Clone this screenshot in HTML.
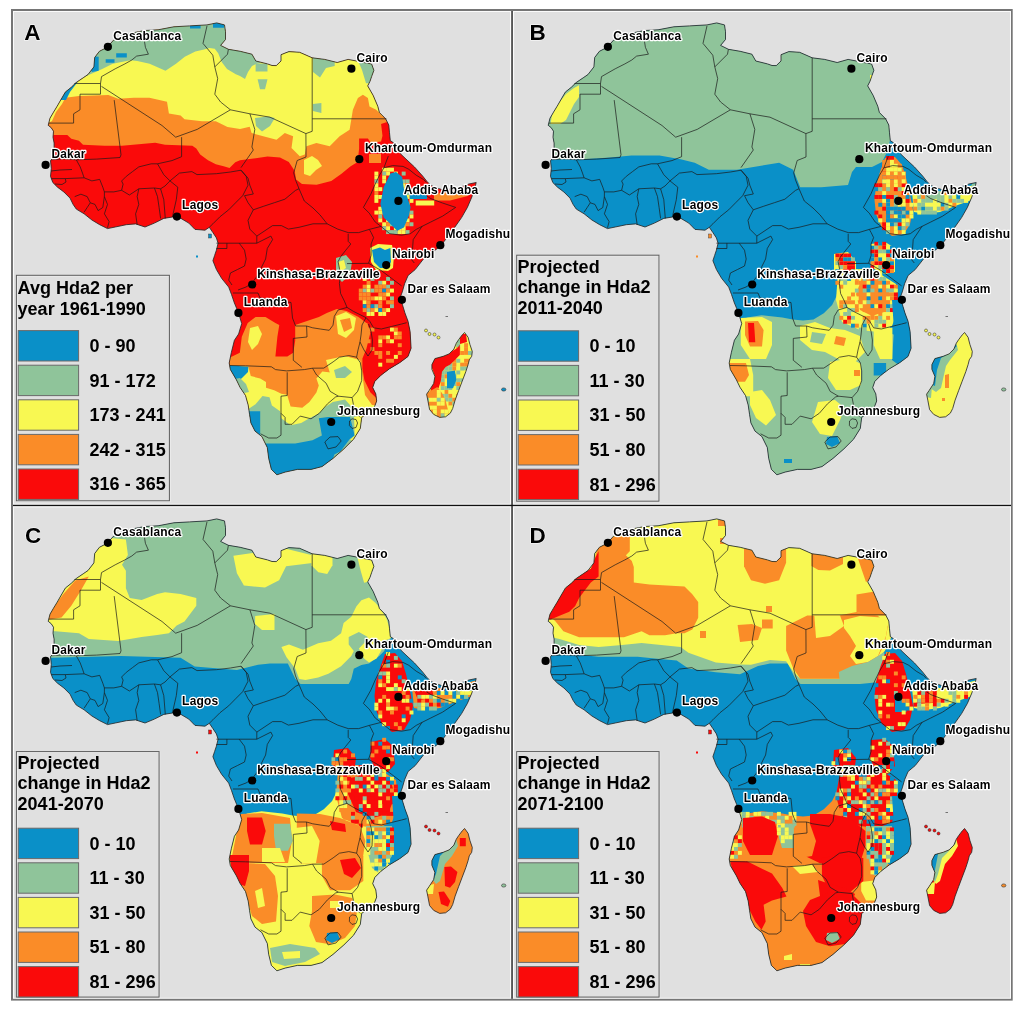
<!DOCTYPE html>
<html><head><meta charset="utf-8"><style>
html,body{margin:0;padding:0;background:#fff;}
svg{display:block;}
text{font-family:"Liberation Sans",Arial,sans-serif;font-weight:bold;fill:#000;}
.ct{font-size:12px;stroke:#fff;stroke-width:2.5px;paint-order:stroke;stroke-linejoin:round;}
.pl{font-size:22.5px;stroke:#fff;stroke-width:1px;paint-order:stroke;}
.lt{font-size:18px;}
.ll{font-size:18px;}
</style></head><body>
<svg width="1024" height="1011" viewBox="0 0 1024 1011">
<defs>
<clipPath id="af"><path d="M113.4,40.3 L122,36 L132,33 L144.5,30.5 L158.1,29.8 L173.8,26.8 L189.4,25.9 L207,24.9 L216.7,22.9 L224.5,24.9 L225.5,31.7 L225.5,39.5 L220.6,45.4 L228.4,49.3 L240.2,51.3 L251.9,54.2 L255.8,61 L267.5,63.9 L272,65.5 L276.3,65.6 L281,61 L281,54.7 L288.8,51.6 L299.7,52.3 L312.2,57.8 L324.7,59.4 L337.2,62.5 L348.1,59.4 L355.9,60.9 L363.8,62.5 L371.6,64 L373.9,70.3 L371.6,76.6 L370,81.3 L367.7,85.9 L373.1,95.3 L377.8,106.3 L379.4,112.5 L385.6,118.8 L388.8,125 L389.5,132.8 L390.3,140.6 L395,143.8 L401.2,154.5 L407,160 L414.5,167 L422.8,176.2 L426.8,181.3 L430,184.5 L433.7,186.9 L442.5,189.8 L457.2,188.3 L468.9,184 L476.2,182.5 L474.8,188.3 L471.8,197.1 L467.4,207.4 L461.6,217.6 L454.3,227.9 L445.5,239.6 L440.4,246.2 L432,252.5 L423.4,259.1 L415.2,269.6 L408.1,275.5 L404.6,283.7 L402.3,291.9 L400.5,296.6 L401.8,302.5 L404.9,312.8 L408,321.2 L410.1,331.5 L411.1,348.2 L408,356.5 L399.7,362.7 L389.3,368.9 L381,375.2 L374.8,381.4 L372.7,387.6 L375.8,393.9 L376.7,401 L374,407.9 L367.2,413.3 L361.7,417.4 L360.3,428.4 L353.5,439.3 L343.9,448.9 L333,458.4 L322,466.6 L311.1,469.4 L297.4,469.4 L285.1,472.1 L276.9,474.8 L271.4,469.4 L268.7,458.4 L267.3,447.5 L261.9,436.6 L255,431.1 L250.9,422.9 L249.6,414.7 L248.2,405.1 L245.5,395.5 L240,387.3 L236.5,380 L230.3,369.4 L229.2,363 L231.3,352.7 L234.4,340.3 L238.6,334 L241.7,323.6 L238.6,313 L234.4,303 L231.5,294.5 L228.7,287.1 L221.6,278.3 L216.4,269.5 L212.9,260.7 L214.6,255.5 L216.4,250.2 L218.1,243.2 L216.4,237.9 L212.9,232.6 L209.3,227.3 L205,230.2 L195,229.4 L188.8,223.1 L180.9,218.4 L173.1,216.9 L163.8,218.4 L154.4,223.1 L145,227 L135.6,223.9 L126.3,224.7 L115.3,227 L107.5,228.6 L99.7,224.7 L91.9,220 L84.1,213.8 L76.3,209.1 L73.1,204.4 L70,198.1 L63.8,191.9 L57.5,187.2 L52.8,182.5 L50.5,176.3 L51.3,168.4 L50.5,160.6 L52.4,158.5 L54.1,149 L54.1,143.1 L53,137.2 L53.5,131.2 L51.2,127.7 L48.2,125.3 L50,118.2 L53.5,112.2 L57.1,106.3 L61.9,98 L65.4,92 L71.3,87.3 L76.1,82.6 L83.2,77.8 L88,74.5 L93.9,66.9 L94.7,57.5 L99.4,51.3 L107.2,47.3Z"/></clipPath>
<clipPath id="mg"><path d="M464.6,332.5 L468.1,337.3 L469.9,344.4 L472.3,351.5 L471.7,356.3 L469.3,359.8 L468.1,364.6 L465.8,371.7 L462.2,381.2 L458.6,390.7 L455.1,400.2 L452.7,408.5 L450.3,413.2 L445.6,416.8 L439.7,417.4 L433.7,414.4 L429.6,409.6 L427.8,400.2 L426.6,394.2 L429,390.7 L433.7,383.5 L434.9,376.4 L431.9,369.3 L431.9,364.6 L434.9,358.6 L443.2,356.3 L449.1,353.9 L453.9,349.1 L456.3,343.2 L458.6,339.7 L462.2,334.9Z"/></clipPath>
<path id="afo" d="M113.4,40.3 L122,36 L132,33 L144.5,30.5 L158.1,29.8 L173.8,26.8 L189.4,25.9 L207,24.9 L216.7,22.9 L224.5,24.9 L225.5,31.7 L225.5,39.5 L220.6,45.4 L228.4,49.3 L240.2,51.3 L251.9,54.2 L255.8,61 L267.5,63.9 L272,65.5 L276.3,65.6 L281,61 L281,54.7 L288.8,51.6 L299.7,52.3 L312.2,57.8 L324.7,59.4 L337.2,62.5 L348.1,59.4 L355.9,60.9 L363.8,62.5 L371.6,64 L373.9,70.3 L371.6,76.6 L370,81.3 L367.7,85.9 L373.1,95.3 L377.8,106.3 L379.4,112.5 L385.6,118.8 L388.8,125 L389.5,132.8 L390.3,140.6 L395,143.8 L401.2,154.5 L407,160 L414.5,167 L422.8,176.2 L426.8,181.3 L430,184.5 L433.7,186.9 L442.5,189.8 L457.2,188.3 L468.9,184 L476.2,182.5 L474.8,188.3 L471.8,197.1 L467.4,207.4 L461.6,217.6 L454.3,227.9 L445.5,239.6 L440.4,246.2 L432,252.5 L423.4,259.1 L415.2,269.6 L408.1,275.5 L404.6,283.7 L402.3,291.9 L400.5,296.6 L401.8,302.5 L404.9,312.8 L408,321.2 L410.1,331.5 L411.1,348.2 L408,356.5 L399.7,362.7 L389.3,368.9 L381,375.2 L374.8,381.4 L372.7,387.6 L375.8,393.9 L376.7,401 L374,407.9 L367.2,413.3 L361.7,417.4 L360.3,428.4 L353.5,439.3 L343.9,448.9 L333,458.4 L322,466.6 L311.1,469.4 L297.4,469.4 L285.1,472.1 L276.9,474.8 L271.4,469.4 L268.7,458.4 L267.3,447.5 L261.9,436.6 L255,431.1 L250.9,422.9 L249.6,414.7 L248.2,405.1 L245.5,395.5 L240,387.3 L236.5,380 L230.3,369.4 L229.2,363 L231.3,352.7 L234.4,340.3 L238.6,334 L241.7,323.6 L238.6,313 L234.4,303 L231.5,294.5 L228.7,287.1 L221.6,278.3 L216.4,269.5 L212.9,260.7 L214.6,255.5 L216.4,250.2 L218.1,243.2 L216.4,237.9 L212.9,232.6 L209.3,227.3 L205,230.2 L195,229.4 L188.8,223.1 L180.9,218.4 L173.1,216.9 L163.8,218.4 L154.4,223.1 L145,227 L135.6,223.9 L126.3,224.7 L115.3,227 L107.5,228.6 L99.7,224.7 L91.9,220 L84.1,213.8 L76.3,209.1 L73.1,204.4 L70,198.1 L63.8,191.9 L57.5,187.2 L52.8,182.5 L50.5,176.3 L51.3,168.4 L50.5,160.6 L52.4,158.5 L54.1,149 L54.1,143.1 L53,137.2 L53.5,131.2 L51.2,127.7 L48.2,125.3 L50,118.2 L53.5,112.2 L57.1,106.3 L61.9,98 L65.4,92 L71.3,87.3 L76.1,82.6 L83.2,77.8 L88,74.5 L93.9,66.9 L94.7,57.5 L99.4,51.3 L107.2,47.3Z" fill="none" stroke="#222" stroke-width="0.8"/>
<g id="brd" fill="none" stroke="#1a1a1a" stroke-width="0.7" stroke-linejoin="round"><polyline points="144.5,41.5 145.4,47.3 148.4,54.2 136.6,56.1 131.8,60 124.9,63.9 115.2,68.8 101.5,76.6 100.5,83.5"/><polyline points="74.4,83.5 100.5,83.5"/><polyline points="100.5,83.5 100.5,94.2 80,94.2 80,109.8 73.6,113.8 73.6,123.1 49,123.1"/><polyline points="101.5,86.4 162,125.5 175.7,137.2"/><polyline points="114.2,100.1 121,154.8 120,157.5 96.6,159.1 76.3,159.8 63.8,158.8 51,159.8"/><polyline points="175.7,137.2 197.2,129.4 230.4,109.8"/><polyline points="181.6,137.2 181.6,156.7 172,160.6 157.5,163.8"/><polyline points="207,25.9 203,43.4 212.8,55.2 214.8,66.9"/><polyline points="214.8,66.9 227.5,54.2 228.4,49.3"/><polyline points="214.8,66.9 217.7,78.6 214.8,94.2 220.6,102 230.4,109.8"/><polyline points="230.4,109.8 249.9,113.8 270,117.2 305.9,133.6 312.2,131.3"/><polyline points="249.9,113.8 254.8,129.4 251.9,147 253.3,150 241,167.6"/><polyline points="312.2,57.8 312.2,131.3"/><polyline points="312.2,118.8 386.4,118.8"/><polyline points="305.9,133.6 306,150 306,157 297.2,160.5 293.7,172.9 295.5,179.9 299,188.7"/><polyline points="76.3,159.8 80.2,166.9 82.5,173.1 84.1,177.8"/><polyline points="51.3,178.6 65.3,178.6 84.1,177.8"/><polyline points="51,171 60,170 72,169.5"/><polyline points="55,184 62,184.5 66,182 65.3,178.6"/><polyline points="84.1,177.8 91.9,180.9 99.7,179.4 102.8,187.2 104.4,191.9"/><polyline points="74.7,196.6 80.9,194.2 87.2,196.6 90.3,202.8 87.2,207.5 84.1,212.2"/><polyline points="90.3,202.8 95,204.4 98.1,210.6 102.8,207.5 104.4,196.6 104.4,191.9"/><polyline points="104.4,196.6 107.5,204.4 104.4,213.8 109.1,221.6 107.5,227.8"/><polyline points="104.4,191.9 113.8,191.9 121.6,190.3 123.1,184.1 121.6,181 126.3,176.3 132.5,171.6 138.8,166.9 151.3,163.8 157.5,163.8"/><polyline points="121.6,190.3 129.4,195 138.8,188.8"/><polyline points="138.8,188.8 137.2,196.6 138.8,204.4 135.6,213.8 137.2,224.7"/><polyline points="138.8,188.8 154.4,188"/><polyline points="154.4,188 157.5,196.6 159.1,207.5 160.6,218.4"/><polyline points="160.6,188.8 163.8,199.7 165.3,218.4"/><polyline points="154.4,188 160.6,188.8 165,186 170,180.9"/><polyline points="170,180.9 177.8,187.2 176.3,199.7 173.1,213.8 172.5,217"/><polyline points="157.5,163.8 163.8,174.7 170,180.9"/><polyline points="170,180.9 179.4,173.1 191.9,171.6 197,174.6 216.4,173.7 230.4,172 241,170.2"/><polyline points="241,170.2 246.2,176.4 248,185.2 242.7,195.7 235.7,202.7 228.7,209.8 219.9,216.8 212.9,223.8 209.3,227.3"/><polyline points="241,170.2 248,178.1 249.8,185.2 253.3,194 244.5,195.7 248,202.7 253.3,209.8"/><polyline points="253.3,209.8 248,220.3 249.8,229.1 256.8,236.1 256.8,243.2"/><polyline points="253.3,209.8 263.8,206.2 274.4,202.7 284.9,199.2 295.5,190.4 299,188.7"/><polyline points="299,188.7 304.3,201 313,208 320.1,215 327.1,223.8"/><polyline points="256.8,236.1 272.6,225.6 281.4,225.6 288.4,229.1 299,227.3 313,223.8 327.1,223.8"/><polyline points="327.1,223.8 337.7,229.1 348.2,232.6 358.7,232.6 369.3,229.4 381,226.4"/><polyline points="216.4,243.2 226.9,243.2 239.2,243.2 256.8,243.2"/><polyline points="216.4,248.5 226.9,248.5 226.9,243.2"/><polyline points="239.2,243.2 244.5,250.2 246.2,259 244.5,266 237.5,269.5 230.4,273 228.7,280.1 232,285"/><polyline points="256.8,243.2 270.9,236.1 272.6,239.6 267.3,248.4 265.6,259 262.1,266 256.8,276.6 251.5,283.6 246,287 238,290"/><polyline points="388.3,156.1 383.9,167.8 392.7,165.6 403,166.4 408.8,169.3 416.2,175.2 423.5,179.5 426.4,182.5"/><polyline points="383.9,167.8 379.5,175.2 375.2,184 370.8,194.2 363.4,207.4 369.3,213.2 375.2,222 381,226.4"/><polyline points="381,226.4 389.8,233.7 401.5,235.2 410.3,233.7 416.2,229.4 422,226.4"/><polyline points="422,226.4 430.8,222 442.5,216.2 455.7,207.4 442.5,203 430.8,198.6 426.4,195.7 425,186"/><polyline points="422,226.4 413.2,239.6 411.8,260 414.3,263"/><polyline points="348.2,233.8 348.2,241.4 350.8,244 345.7,250.3 340.6,256.7 338.1,261.7 339.4,268.1 340.6,274.4 339.4,283.3 340.6,293.5 344.4,301.1 347,307.4"/><polyline points="347,263.6 368.6,263.3"/><polyline points="368.6,263.3 371.1,255.4 371.1,244 373.6,237.6 371.1,232.5 369.3,229.4"/><polyline points="368.6,263.3 381.3,270.6 391.4,278.2 401.6,285.9"/><polyline points="347,307.4 353.3,311.3 360.9,315.1 366,317.6 369.8,321.4 373.6,327.8 381.3,329 391.4,326.5 401.6,324 406.6,322.7"/><polyline points="347,307.4 338.1,310 334.3,316.3 333,325.2 329.2,330.3 320.3,329 312.7,327.8 306.6,326"/><polyline points="233,293 258,293 260,298 275,300 291,302.5 292.5,318 295.6,326 306.6,326 307,337 293.3,338.4 293.3,360.3 301.9,367.3"/><polyline points="230,365.5 245.6,365.8 271.4,366.8 275.5,369.6 286.5,370.9 304.3,369.6 312.5,368.2"/><polyline points="287.2,372.3 287.2,395.5 281,396.2 281,435.2"/><polyline points="260.5,433.8 268.7,438 276.9,438 281,435.2"/><polyline points="281,413.3 285.1,417.4 285.1,424.3 292,424.3 300.2,416.1 311.1,418.8 319.3,413.3 327.5,403.8 335.7,396.9 338.4,396.2"/><polyline points="312.5,368.2 316.6,375 326.1,383.2 330.2,391.4 338.4,396.2"/><polyline points="338.4,396.2 352.1,397.6"/><polyline points="352.1,397.6 357.6,391.4 361.7,380.5 361.7,370.9 360.3,362.7 356.6,357.2"/><polyline points="312.5,368.2 323.8,368.1 333.1,361.9 339.4,357.2 348.8,355.6 356.6,357.2"/><polyline points="352.1,397.6 353.5,405.1 357.6,414.7 360.3,417.4"/><polyline points="349.5,421 352,418.8 356,419.5 357.6,423 356,427.5 352,428.4 349.4,425.5 349.5,421"/><polyline points="324.8,442 330,437 338,436.6 341.2,441 336,447 328,448.9 324.8,442"/><polyline points="366,317.6 362,325 361,335 360,342 364,350 368,356 372,350 372.4,340 371.1,331.6 368.6,324"/><polyline points="356.6,357.2 358,350 360,342"/></g>
<path id="mgo" d="M464.6,332.5 L468.1,337.3 L469.9,344.4 L472.3,351.5 L471.7,356.3 L469.3,359.8 L468.1,364.6 L465.8,371.7 L462.2,381.2 L458.6,390.7 L455.1,400.2 L452.7,408.5 L450.3,413.2 L445.6,416.8 L439.7,417.4 L433.7,414.4 L429.6,409.6 L427.8,400.2 L426.6,394.2 L429,390.7 L433.7,383.5 L434.9,376.4 L431.9,369.3 L431.9,364.6 L434.9,358.6 L443.2,356.3 L449.1,353.9 L453.9,349.1 L456.3,343.2 L458.6,339.7 L462.2,334.9Z" fill="none" stroke="#222" stroke-width="0.8"/>
</defs>
<rect width="1024" height="1011" fill="#fff"/>
<rect x="11" y="9" width="1001.7" height="991.6" fill="#757575"/>
<rect x="13" y="11" width="998" height="987.8" fill="#fbfbfb"/>
<rect x="14" y="12" width="996" height="985.8" fill="#e0e0e0"/>
<g transform="translate(0,0)">
<g clip-path="url(#af)"><rect x="40" y="15" width="450" height="470" fill="#fa0a0a"/>
<polygon fill="#fa8c28" points="30,135 45,135 57.6,134.9 67.3,134.9 71.3,138.8 79,140.8 83,144.7 104.5,145.7 122,145.7 155.2,142.7 165,144.7 192.3,145.7 196.3,148.6 200.2,154.5 208,160.3 215.8,164.2 223.6,166.2 229.5,168.1 235.3,162.3 240,160.3 253.6,158.5 267.5,156.5 280,157.6 288.8,162 294.6,170.8 296.1,179.6 302,184 316.6,184.7 331.3,181.1 341.5,173.7 350.3,166.4 357.6,162 359.1,148.8 359.1,138.6 367.9,138.6 370.8,143 381.1,141.5 382.5,135.7 381.1,124 385.5,122.5 392,121 400,110 495,110 495,5 30,5"/>
<polygon fill="#fa8c28" points="369,154 381,154 381,163 369,163"/>
<polygon fill="#f8f852" points="30,125 45,125 52,121 56,112 62,104 65.4,97.8 79,95.9 108.4,94.9 118.1,98.8 133.8,97.8 149.4,97.8 167,101.7 168.9,113.4 180.6,115.4 184.5,119.3 202.1,121.3 215.8,121.3 227.5,127.1 240,129 249.7,126.8 251.6,133 263.2,136.3 276.5,139.7 284.8,133 293.1,136.3 291.5,148 299.8,156.3 304.8,154.6 306.4,146.3 316.4,143 329.7,146.3 339.6,136.3 349.6,129.7 352.9,109.8 357.9,98.1 362.9,94.8 367.9,98.1 369.5,106.4 376.2,109.8 379.5,113.1 382.5,116.6 395,110 495,110 495,5 30,5"/>
<polygon fill="#f8f852" points="304,160 312,156 318,160 322,166 316,170 310,176 304,174"/>
<polygon fill="#8fc49a" points="30,80 80,80 86.4,76 102.2,69 112.7,63.7 130.3,60.2 137.3,61.1 149.6,63.7 165.5,70.7 176,63.7 184.8,56.7 195.3,51.4 204.1,49.6 209.4,47.9 214.7,48.8 218.2,53.2 221.7,62 227,69 235.8,74.2 240,76 245,79 248,72 252,66 256,64 260,63 262,58 270,56 300,50 495,50 495,5 30,5"/>
<polygon fill="#8fc49a" points="255.6,63.5 267.5,63.5 267.5,71.4 255.6,71.4"/>
<polygon fill="#8fc49a" points="257.6,79.3 267.5,79.3 265,89.2 260,89.2"/>
<polygon fill="#8fc49a" points="313,56 334.7,56 334.7,66 326,68 320,77.4 313,72"/>
<polygon fill="#8fc49a" points="358.5,62 374,62 374,83.3 366,83.3 362,70"/>
<polygon fill="#8fc49a" points="313,104 321.4,103 321.4,113 313,111"/>
<polygon fill="#8fc49a" points="255,118 268,116.4 274.8,118 270,126 262,131.4 256,126"/>
<polygon fill="#0a90c8" points="90,56 98.7,56.7 98.7,70.7 92,72 88,66"/>
<polygon fill="#0a90c8" points="105.7,59.3 114.5,59.3 114.5,62.8 105.7,62.8"/>
<polygon fill="#0a90c8" points="116.2,53.2 126.8,53.2 126.8,57.5 116.2,57.5"/>
<polygon fill="#0a90c8" points="190,22 200.6,22 200.6,28.5 190,28.5"/>
<polygon fill="#0a90c8" points="213,18 224,18 224,27.7 213,27.7"/>
<polygon fill="#0a90c8" points="60,84 70,80 77.6,82 70,92 66,100 58,100"/>
<polygon fill="#fa8c28" points="30,358.6 220,358.6 227.9,358.6 239.8,352.7 241.8,336.8 247.7,323 255.6,317 265.5,317 275.4,323 279.3,325 277.4,336.8 275.4,356.6 287.3,356.6 293.2,352.7 295.2,340.8 295.2,325 307,321 318.9,317 326.8,313.1 336.7,309.1 346.6,311.1 358.5,317 366.4,323 420,323 495,323 495,495 30,495"/>
<polygon fill="#fa0a0a" points="366.4,320 420,320 420,410 378.3,400.1 370.3,392.2 364.4,380.3 362.4,368.5 362.4,358.6 366.4,348.7 370.3,332.9"/>
<polygon fill="#f8f852" points="30,366 220,366 229.7,365.5 248.4,366.7 250.8,376.1 260.2,378.4 266,382 266,387.8 274.2,390.2 281.3,393.7 287.1,394.8 290.6,406.6 302.3,407.7 309.4,401.9 316.4,392.5 318.8,385.5 316.4,378.4 322.3,371.4 330.8,372.4 338.7,368.5 348.6,366.5 358.5,368.5 362,372 365,395 372,405 420,405 495,405 495,495 30,495"/>
<polygon fill="#8fc49a" points="30,408.9 220,408.9 248.4,408.9 255.5,404.2 262.5,396 269.5,397.2 271.9,405.4 280.1,411.3 281.3,418.3 290.6,425.3 301.2,423 309.4,418.3 318.8,413.6 325.8,406.6 332.8,401.9 345,399.5 350,405 357.8,416.9 420,416.9 495,416.9 495,495 30,495"/>
<polygon fill="#0a90c8" points="30,443.4 220,443.4 262.5,443.4 279.7,443.4 295.3,443.4 312.5,440.3 321.9,435.6 318.8,418.3 328.1,416.9 345,417 350,416.9 354.7,435.6 350,438.8 340.6,451.3 334.4,454.4 331.3,463.8 331.3,480 495,480 495,495 30,495"/>
<polygon fill="#0a90c8" points="245,411.3 260.2,411.3 260.2,435 250,435"/>
<polygon fill="#0a90c8" points="225,365 248.4,366.7 248,372 242,378 236,383 228,383"/>
<polygon fill="#8fc49a" points="228,380 240,378 246,384 249,392 240,394"/>
<polygon fill="#f8f852" points="354,416.9 366,414 366,425 362,436 356,442 350,440 354.7,435.6"/>
<rect x="366.6" y="327.6" width="3.95" height="3.95" fill="#fa8c28"/><rect x="370.5" y="327.6" width="3.95" height="3.95" fill="#fa8c28"/><rect x="390.0" y="327.6" width="3.95" height="3.95" fill="#f8f852"/><rect x="393.9" y="327.6" width="3.95" height="3.95" fill="#fa8c28"/><rect x="393.9" y="331.5" width="3.95" height="3.95" fill="#f8f852"/><rect x="397.8" y="331.5" width="3.95" height="3.95" fill="#fa8c28"/><rect x="378.3" y="335.4" width="3.95" height="3.95" fill="#fa8c28"/><rect x="382.2" y="335.4" width="3.95" height="3.95" fill="#fa8c28"/><rect x="386.1" y="335.4" width="3.95" height="3.95" fill="#f8f852"/><rect x="393.9" y="335.4" width="3.95" height="3.95" fill="#fa8c28"/><rect x="397.8" y="335.4" width="3.95" height="3.95" fill="#fa8c28"/><rect x="366.6" y="339.3" width="3.95" height="3.95" fill="#fa8c28"/><rect x="378.3" y="339.3" width="3.95" height="3.95" fill="#f8f852"/><rect x="386.1" y="339.3" width="3.95" height="3.95" fill="#fa8c28"/><rect x="390.0" y="339.3" width="3.95" height="3.95" fill="#f8f852"/><rect x="378.3" y="343.2" width="3.95" height="3.95" fill="#fa8c28"/><rect x="397.8" y="343.2" width="3.95" height="3.95" fill="#fa8c28"/><rect x="370.5" y="347.1" width="3.95" height="3.95" fill="#fa8c28"/><rect x="374.4" y="351.0" width="3.95" height="3.95" fill="#fa8c28"/><rect x="378.3" y="351.0" width="3.95" height="3.95" fill="#fa8c28"/><rect x="386.1" y="351.0" width="3.95" height="3.95" fill="#fa8c28"/><rect x="397.8" y="351.0" width="3.95" height="3.95" fill="#fa8c28"/><rect x="378.3" y="354.9" width="3.95" height="3.95" fill="#fa8c28"/><rect x="393.9" y="354.9" width="3.95" height="3.95" fill="#f8f852"/><rect x="386.1" y="358.8" width="3.95" height="3.95" fill="#fa8c28"/><rect x="390.0" y="358.8" width="3.95" height="3.95" fill="#fa8c28"/><rect x="378.3" y="362.7" width="3.95" height="3.95" fill="#f8f852"/>
<polygon fill="#f8f852" points="326,360 345,356 360,360 362,372 350,380 340,385 332,380"/>
<polygon fill="#8fc49a" points="334,370 345,366 352,372 345,378 336,378"/>
<polygon fill="#f8f852" points="250,328 258,326 262,334 258,344 252,350 248,342"/>
<rect x="382.2" y="167.7" width="3.95" height="3.95" fill="#f8f852"/><rect x="386.1" y="167.7" width="3.95" height="3.95" fill="#f8f852"/><rect x="390.0" y="167.7" width="3.95" height="3.95" fill="#f8f852"/><rect x="374.4" y="171.6" width="3.95" height="3.95" fill="#f8f852"/><rect x="382.2" y="171.6" width="3.95" height="3.95" fill="#8fc49a"/><rect x="386.1" y="171.6" width="3.95" height="3.95" fill="#f8f852"/><rect x="393.9" y="171.6" width="3.95" height="3.95" fill="#f8f852"/><rect x="401.7" y="171.6" width="3.95" height="3.95" fill="#8fc49a"/><rect x="374.4" y="175.5" width="3.95" height="3.95" fill="#f8f852"/><rect x="382.2" y="175.5" width="3.95" height="3.95" fill="#f8f852"/><rect x="390.0" y="175.5" width="3.95" height="3.95" fill="#f8f852"/><rect x="374.4" y="179.4" width="3.95" height="3.95" fill="#8fc49a"/><rect x="382.2" y="179.4" width="3.95" height="3.95" fill="#f8f852"/><rect x="393.9" y="179.4" width="3.95" height="3.95" fill="#8fc49a"/><rect x="397.8" y="179.4" width="3.95" height="3.95" fill="#8fc49a"/><rect x="401.7" y="179.4" width="3.95" height="3.95" fill="#8fc49a"/><rect x="405.6" y="179.4" width="3.95" height="3.95" fill="#8fc49a"/><rect x="374.4" y="183.3" width="3.95" height="3.95" fill="#f8f852"/><rect x="386.1" y="183.3" width="3.95" height="3.95" fill="#8fc49a"/><rect x="390.0" y="183.3" width="3.95" height="3.95" fill="#8fc49a"/><rect x="393.9" y="183.3" width="3.95" height="3.95" fill="#8fc49a"/><rect x="401.7" y="183.3" width="3.95" height="3.95" fill="#f8f852"/><rect x="405.6" y="183.3" width="3.95" height="3.95" fill="#fa8c28"/><rect x="374.4" y="187.2" width="3.95" height="3.95" fill="#f8f852"/><rect x="378.3" y="187.2" width="3.95" height="3.95" fill="#f8f852"/><rect x="386.1" y="187.2" width="3.95" height="3.95" fill="#f8f852"/><rect x="390.0" y="187.2" width="3.95" height="3.95" fill="#8fc49a"/><rect x="393.9" y="187.2" width="3.95" height="3.95" fill="#f8f852"/><rect x="397.8" y="187.2" width="3.95" height="3.95" fill="#f8f852"/><rect x="401.7" y="187.2" width="3.95" height="3.95" fill="#f8f852"/><rect x="374.4" y="191.1" width="3.95" height="3.95" fill="#fa8c28"/><rect x="386.1" y="191.1" width="3.95" height="3.95" fill="#8fc49a"/><rect x="397.8" y="191.1" width="3.95" height="3.95" fill="#8fc49a"/><rect x="405.6" y="191.1" width="3.95" height="3.95" fill="#8fc49a"/><rect x="409.5" y="191.1" width="3.95" height="3.95" fill="#8fc49a"/><rect x="374.4" y="195.0" width="3.95" height="3.95" fill="#f8f852"/><rect x="378.3" y="195.0" width="3.95" height="3.95" fill="#f8f852"/><rect x="390.0" y="195.0" width="3.95" height="3.95" fill="#8fc49a"/><rect x="397.8" y="195.0" width="3.95" height="3.95" fill="#f8f852"/><rect x="401.7" y="195.0" width="3.95" height="3.95" fill="#f8f852"/><rect x="405.6" y="195.0" width="3.95" height="3.95" fill="#f8f852"/><rect x="409.5" y="195.0" width="3.95" height="3.95" fill="#8fc49a"/><rect x="374.4" y="198.9" width="3.95" height="3.95" fill="#f8f852"/><rect x="390.0" y="198.9" width="3.95" height="3.95" fill="#8fc49a"/><rect x="393.9" y="198.9" width="3.95" height="3.95" fill="#f8f852"/><rect x="401.7" y="198.9" width="3.95" height="3.95" fill="#8fc49a"/><rect x="409.5" y="198.9" width="3.95" height="3.95" fill="#f8f852"/><rect x="382.2" y="202.8" width="3.95" height="3.95" fill="#fa8c28"/><rect x="386.1" y="202.8" width="3.95" height="3.95" fill="#8fc49a"/><rect x="390.0" y="202.8" width="3.95" height="3.95" fill="#8fc49a"/><rect x="397.8" y="202.8" width="3.95" height="3.95" fill="#f8f852"/><rect x="401.7" y="202.8" width="3.95" height="3.95" fill="#8fc49a"/><rect x="405.6" y="202.8" width="3.95" height="3.95" fill="#f8f852"/><rect x="378.3" y="206.7" width="3.95" height="3.95" fill="#f8f852"/><rect x="382.2" y="206.7" width="3.95" height="3.95" fill="#8fc49a"/><rect x="386.1" y="206.7" width="3.95" height="3.95" fill="#fa8c28"/><rect x="393.9" y="206.7" width="3.95" height="3.95" fill="#8fc49a"/><rect x="397.8" y="206.7" width="3.95" height="3.95" fill="#f8f852"/><rect x="401.7" y="206.7" width="3.95" height="3.95" fill="#8fc49a"/><rect x="374.4" y="210.6" width="3.95" height="3.95" fill="#f8f852"/><rect x="378.3" y="210.6" width="3.95" height="3.95" fill="#f8f852"/><rect x="382.2" y="210.6" width="3.95" height="3.95" fill="#8fc49a"/><rect x="386.1" y="210.6" width="3.95" height="3.95" fill="#f8f852"/><rect x="393.9" y="210.6" width="3.95" height="3.95" fill="#fa8c28"/><rect x="397.8" y="210.6" width="3.95" height="3.95" fill="#f8f852"/><rect x="401.7" y="210.6" width="3.95" height="3.95" fill="#8fc49a"/><rect x="405.6" y="210.6" width="3.95" height="3.95" fill="#f8f852"/><rect x="409.5" y="210.6" width="3.95" height="3.95" fill="#8fc49a"/><rect x="378.3" y="214.5" width="3.95" height="3.95" fill="#8fc49a"/><rect x="386.1" y="214.5" width="3.95" height="3.95" fill="#8fc49a"/><rect x="390.0" y="214.5" width="3.95" height="3.95" fill="#f8f852"/><rect x="409.5" y="214.5" width="3.95" height="3.95" fill="#f8f852"/><rect x="378.3" y="218.4" width="3.95" height="3.95" fill="#f8f852"/><rect x="386.1" y="218.4" width="3.95" height="3.95" fill="#f8f852"/><rect x="390.0" y="218.4" width="3.95" height="3.95" fill="#fa8c28"/><rect x="393.9" y="218.4" width="3.95" height="3.95" fill="#f8f852"/><rect x="397.8" y="218.4" width="3.95" height="3.95" fill="#f8f852"/><rect x="401.7" y="218.4" width="3.95" height="3.95" fill="#8fc49a"/><rect x="405.6" y="218.4" width="3.95" height="3.95" fill="#f8f852"/><rect x="382.2" y="222.3" width="3.95" height="3.95" fill="#f8f852"/><rect x="386.1" y="222.3" width="3.95" height="3.95" fill="#fa8c28"/><rect x="390.0" y="222.3" width="3.95" height="3.95" fill="#8fc49a"/><rect x="401.7" y="222.3" width="3.95" height="3.95" fill="#f8f852"/><rect x="405.6" y="222.3" width="3.95" height="3.95" fill="#fa8c28"/><rect x="409.5" y="222.3" width="3.95" height="3.95" fill="#8fc49a"/><rect x="382.2" y="226.2" width="3.95" height="3.95" fill="#8fc49a"/><rect x="386.1" y="226.2" width="3.95" height="3.95" fill="#f8f852"/><rect x="393.9" y="226.2" width="3.95" height="3.95" fill="#f8f852"/><rect x="397.8" y="226.2" width="3.95" height="3.95" fill="#f8f852"/><rect x="401.7" y="226.2" width="3.95" height="3.95" fill="#f8f852"/><rect x="386.1" y="230.1" width="3.95" height="3.95" fill="#8fc49a"/><rect x="390.0" y="230.1" width="3.95" height="3.95" fill="#8fc49a"/><rect x="393.9" y="230.1" width="3.95" height="3.95" fill="#8fc49a"/><rect x="397.8" y="230.1" width="3.95" height="3.95" fill="#f8f852"/><rect x="401.7" y="230.1" width="3.95" height="3.95" fill="#f8f852"/><rect x="405.6" y="230.1" width="3.95" height="3.95" fill="#8fc49a"/>
<polygon fill="#0a90c8" points="390.4,173.6 396,172 402.2,177 403.9,188.8 407.3,197.2 410.6,207.3 408.9,215.7 403.9,227.4 397.2,230.8 390.4,224 383.7,217.4 380.4,203.9 383.7,187"/>
<polygon fill="#0a90c8" points="410,194 427,194 427,199 410,199"/>
<polygon fill="#f8f852" points="415.7,200.5 434.2,200.5 434.2,205.6 415.7,205.6"/>
<polygon fill="#fa8c28" points="434,193.8 467.8,190 467.8,196 450,200.5 434,200.5"/>
<polygon fill="#f8f852" points="370,248 378,244 392,245 394,255 393,268 388,271 376,270 371,262"/>
<polygon fill="#0a90c8" points="372,250 380,247.6 385,250 390.4,248 391,262 388,268 380,268 374,262"/>
<polygon fill="#8fc49a" points="336,258 346,255 352,262 350,275 342,282 336,276"/>
<polygon fill="#f8f852" points="338,262 344,260 346,268 340,272"/>
<rect x="366.6" y="273.0" width="3.95" height="3.95" fill="#8fc49a"/><rect x="374.4" y="273.0" width="3.95" height="3.95" fill="#0a90c8"/><rect x="362.7" y="276.9" width="3.95" height="3.95" fill="#f8f852"/><rect x="370.5" y="276.9" width="3.95" height="3.95" fill="#8fc49a"/><rect x="386.1" y="276.9" width="3.95" height="3.95" fill="#8fc49a"/><rect x="366.6" y="280.8" width="3.95" height="3.95" fill="#fa8c28"/><rect x="378.3" y="280.8" width="3.95" height="3.95" fill="#8fc49a"/><rect x="382.2" y="280.8" width="3.95" height="3.95" fill="#f8f852"/><rect x="390.0" y="280.8" width="3.95" height="3.95" fill="#8fc49a"/><rect x="362.7" y="284.7" width="3.95" height="3.95" fill="#fa8c28"/><rect x="366.6" y="284.7" width="3.95" height="3.95" fill="#f8f852"/><rect x="374.4" y="284.7" width="3.95" height="3.95" fill="#fa8c28"/><rect x="378.3" y="284.7" width="3.95" height="3.95" fill="#fa8c28"/><rect x="382.2" y="284.7" width="3.95" height="3.95" fill="#fa8c28"/><rect x="386.1" y="284.7" width="3.95" height="3.95" fill="#8fc49a"/><rect x="358.8" y="288.6" width="3.95" height="3.95" fill="#fa8c28"/><rect x="362.7" y="288.6" width="3.95" height="3.95" fill="#8fc49a"/><rect x="366.6" y="288.6" width="3.95" height="3.95" fill="#f8f852"/><rect x="370.5" y="288.6" width="3.95" height="3.95" fill="#8fc49a"/><rect x="374.4" y="288.6" width="3.95" height="3.95" fill="#fa8c28"/><rect x="378.3" y="288.6" width="3.95" height="3.95" fill="#fa8c28"/><rect x="382.2" y="288.6" width="3.95" height="3.95" fill="#0a90c8"/><rect x="386.1" y="288.6" width="3.95" height="3.95" fill="#fa8c28"/><rect x="390.0" y="288.6" width="3.95" height="3.95" fill="#f8f852"/><rect x="358.8" y="292.5" width="3.95" height="3.95" fill="#fa8c28"/><rect x="362.7" y="292.5" width="3.95" height="3.95" fill="#fa8c28"/><rect x="366.6" y="292.5" width="3.95" height="3.95" fill="#fa8c28"/><rect x="378.3" y="292.5" width="3.95" height="3.95" fill="#fa8c28"/><rect x="382.2" y="292.5" width="3.95" height="3.95" fill="#fa8c28"/><rect x="386.1" y="292.5" width="3.95" height="3.95" fill="#f8f852"/><rect x="358.8" y="296.4" width="3.95" height="3.95" fill="#fa8c28"/><rect x="362.7" y="296.4" width="3.95" height="3.95" fill="#fa8c28"/><rect x="366.6" y="296.4" width="3.95" height="3.95" fill="#fa8c28"/><rect x="370.5" y="296.4" width="3.95" height="3.95" fill="#fa8c28"/><rect x="374.4" y="296.4" width="3.95" height="3.95" fill="#f8f852"/><rect x="378.3" y="296.4" width="3.95" height="3.95" fill="#f8f852"/><rect x="382.2" y="296.4" width="3.95" height="3.95" fill="#fa8c28"/><rect x="390.0" y="296.4" width="3.95" height="3.95" fill="#8fc49a"/><rect x="362.7" y="300.3" width="3.95" height="3.95" fill="#f8f852"/><rect x="366.6" y="300.3" width="3.95" height="3.95" fill="#fa8c28"/><rect x="378.3" y="300.3" width="3.95" height="3.95" fill="#fa8c28"/><rect x="386.1" y="300.3" width="3.95" height="3.95" fill="#fa8c28"/><rect x="390.0" y="300.3" width="3.95" height="3.95" fill="#fa8c28"/><rect x="362.7" y="304.2" width="3.95" height="3.95" fill="#0a90c8"/><rect x="366.6" y="304.2" width="3.95" height="3.95" fill="#fa8c28"/><rect x="370.5" y="304.2" width="3.95" height="3.95" fill="#0a90c8"/><rect x="374.4" y="304.2" width="3.95" height="3.95" fill="#8fc49a"/><rect x="378.3" y="304.2" width="3.95" height="3.95" fill="#fa8c28"/><rect x="390.0" y="304.2" width="3.95" height="3.95" fill="#8fc49a"/><rect x="362.7" y="308.1" width="3.95" height="3.95" fill="#fa8c28"/><rect x="366.6" y="308.1" width="3.95" height="3.95" fill="#8fc49a"/><rect x="370.5" y="308.1" width="3.95" height="3.95" fill="#fa8c28"/><rect x="374.4" y="308.1" width="3.95" height="3.95" fill="#f8f852"/><rect x="378.3" y="308.1" width="3.95" height="3.95" fill="#0a90c8"/><rect x="382.2" y="308.1" width="3.95" height="3.95" fill="#fa8c28"/><rect x="386.1" y="308.1" width="3.95" height="3.95" fill="#f8f852"/><rect x="366.6" y="312.0" width="3.95" height="3.95" fill="#f8f852"/><rect x="370.5" y="312.0" width="3.95" height="3.95" fill="#f8f852"/><rect x="378.3" y="312.0" width="3.95" height="3.95" fill="#f8f852"/><rect x="382.2" y="312.0" width="3.95" height="3.95" fill="#f8f852"/>
<polygon fill="#f8f852" points="336,316 346,312 356,318 354,330 346,338 338,334"/>
<polygon fill="#fa8c28" points="340,320 350,318 352,328 344,332"/>
</g>
<g clip-path="url(#mg)"><rect x="420" y="325" width="60" height="100" fill="#f8f852"/>
<rect x="440.7" y="339.3" width="3.95" height="3.95" fill="#8fc49a"/><rect x="444.6" y="339.3" width="3.95" height="3.95" fill="#f8f852"/><rect x="448.5" y="339.3" width="3.95" height="3.95" fill="#fa8c28"/><rect x="452.4" y="339.3" width="3.95" height="3.95" fill="#f8f852"/><rect x="456.3" y="339.3" width="3.95" height="3.95" fill="#8fc49a"/><rect x="464.1" y="339.3" width="3.95" height="3.95" fill="#f8f852"/><rect x="440.7" y="343.2" width="3.95" height="3.95" fill="#8fc49a"/><rect x="444.6" y="343.2" width="3.95" height="3.95" fill="#8fc49a"/><rect x="448.5" y="343.2" width="3.95" height="3.95" fill="#f8f852"/><rect x="456.3" y="343.2" width="3.95" height="3.95" fill="#8fc49a"/><rect x="464.1" y="343.2" width="3.95" height="3.95" fill="#fa8c28"/><rect x="468.0" y="343.2" width="3.95" height="3.95" fill="#f8f852"/><rect x="440.7" y="347.1" width="3.95" height="3.95" fill="#fa8c28"/><rect x="444.6" y="347.1" width="3.95" height="3.95" fill="#f8f852"/><rect x="448.5" y="347.1" width="3.95" height="3.95" fill="#8fc49a"/><rect x="452.4" y="347.1" width="3.95" height="3.95" fill="#f8f852"/><rect x="456.3" y="347.1" width="3.95" height="3.95" fill="#fa8c28"/><rect x="464.1" y="347.1" width="3.95" height="3.95" fill="#fa8c28"/><rect x="468.0" y="347.1" width="3.95" height="3.95" fill="#f8f852"/><rect x="440.7" y="351.0" width="3.95" height="3.95" fill="#fa8c28"/><rect x="444.6" y="351.0" width="3.95" height="3.95" fill="#8fc49a"/><rect x="456.3" y="351.0" width="3.95" height="3.95" fill="#fa8c28"/><rect x="460.2" y="351.0" width="3.95" height="3.95" fill="#fa8c28"/><rect x="464.1" y="351.0" width="3.95" height="3.95" fill="#fa8c28"/><rect x="468.0" y="351.0" width="3.95" height="3.95" fill="#8fc49a"/><rect x="440.7" y="354.9" width="3.95" height="3.95" fill="#8fc49a"/><rect x="444.6" y="354.9" width="3.95" height="3.95" fill="#f8f852"/><rect x="448.5" y="354.9" width="3.95" height="3.95" fill="#8fc49a"/><rect x="452.4" y="354.9" width="3.95" height="3.95" fill="#8fc49a"/><rect x="456.3" y="354.9" width="3.95" height="3.95" fill="#f8f852"/><rect x="464.1" y="354.9" width="3.95" height="3.95" fill="#f8f852"/><rect x="440.7" y="358.8" width="3.95" height="3.95" fill="#f8f852"/><rect x="444.6" y="358.8" width="3.95" height="3.95" fill="#8fc49a"/><rect x="448.5" y="358.8" width="3.95" height="3.95" fill="#f8f852"/><rect x="452.4" y="358.8" width="3.95" height="3.95" fill="#fa8c28"/><rect x="456.3" y="358.8" width="3.95" height="3.95" fill="#8fc49a"/><rect x="464.1" y="358.8" width="3.95" height="3.95" fill="#fa8c28"/><rect x="468.0" y="358.8" width="3.95" height="3.95" fill="#fa8c28"/><rect x="440.7" y="362.7" width="3.95" height="3.95" fill="#8fc49a"/><rect x="444.6" y="362.7" width="3.95" height="3.95" fill="#8fc49a"/><rect x="448.5" y="362.7" width="3.95" height="3.95" fill="#8fc49a"/><rect x="452.4" y="362.7" width="3.95" height="3.95" fill="#fa8c28"/><rect x="460.2" y="362.7" width="3.95" height="3.95" fill="#fa8c28"/><rect x="464.1" y="362.7" width="3.95" height="3.95" fill="#fa8c28"/><rect x="468.0" y="362.7" width="3.95" height="3.95" fill="#f8f852"/><rect x="440.7" y="366.6" width="3.95" height="3.95" fill="#8fc49a"/><rect x="444.6" y="366.6" width="3.95" height="3.95" fill="#8fc49a"/><rect x="448.5" y="366.6" width="3.95" height="3.95" fill="#8fc49a"/><rect x="452.4" y="366.6" width="3.95" height="3.95" fill="#fa8c28"/><rect x="456.3" y="366.6" width="3.95" height="3.95" fill="#f8f852"/><rect x="460.2" y="366.6" width="3.95" height="3.95" fill="#8fc49a"/><rect x="464.1" y="366.6" width="3.95" height="3.95" fill="#8fc49a"/><rect x="468.0" y="366.6" width="3.95" height="3.95" fill="#f8f852"/><rect x="440.7" y="370.5" width="3.95" height="3.95" fill="#8fc49a"/><rect x="444.6" y="370.5" width="3.95" height="3.95" fill="#8fc49a"/><rect x="448.5" y="370.5" width="3.95" height="3.95" fill="#8fc49a"/><rect x="456.3" y="370.5" width="3.95" height="3.95" fill="#8fc49a"/><rect x="464.1" y="370.5" width="3.95" height="3.95" fill="#f8f852"/><rect x="468.0" y="370.5" width="3.95" height="3.95" fill="#8fc49a"/><rect x="440.7" y="374.4" width="3.95" height="3.95" fill="#8fc49a"/><rect x="444.6" y="374.4" width="3.95" height="3.95" fill="#fa8c28"/><rect x="448.5" y="374.4" width="3.95" height="3.95" fill="#f8f852"/><rect x="452.4" y="374.4" width="3.95" height="3.95" fill="#8fc49a"/><rect x="460.2" y="374.4" width="3.95" height="3.95" fill="#f8f852"/><rect x="464.1" y="374.4" width="3.95" height="3.95" fill="#8fc49a"/><rect x="468.0" y="374.4" width="3.95" height="3.95" fill="#8fc49a"/><rect x="440.7" y="378.3" width="3.95" height="3.95" fill="#8fc49a"/><rect x="448.5" y="378.3" width="3.95" height="3.95" fill="#f8f852"/><rect x="452.4" y="378.3" width="3.95" height="3.95" fill="#8fc49a"/><rect x="456.3" y="378.3" width="3.95" height="3.95" fill="#8fc49a"/><rect x="460.2" y="378.3" width="3.95" height="3.95" fill="#8fc49a"/><rect x="464.1" y="378.3" width="3.95" height="3.95" fill="#8fc49a"/><rect x="468.0" y="378.3" width="3.95" height="3.95" fill="#f8f852"/><rect x="440.7" y="382.2" width="3.95" height="3.95" fill="#fa8c28"/><rect x="448.5" y="382.2" width="3.95" height="3.95" fill="#fa8c28"/><rect x="452.4" y="382.2" width="3.95" height="3.95" fill="#8fc49a"/><rect x="456.3" y="382.2" width="3.95" height="3.95" fill="#fa8c28"/><rect x="460.2" y="382.2" width="3.95" height="3.95" fill="#f8f852"/><rect x="464.1" y="382.2" width="3.95" height="3.95" fill="#f8f852"/><rect x="468.0" y="382.2" width="3.95" height="3.95" fill="#8fc49a"/><rect x="440.7" y="386.1" width="3.95" height="3.95" fill="#8fc49a"/><rect x="444.6" y="386.1" width="3.95" height="3.95" fill="#8fc49a"/><rect x="448.5" y="386.1" width="3.95" height="3.95" fill="#8fc49a"/><rect x="452.4" y="386.1" width="3.95" height="3.95" fill="#f8f852"/><rect x="456.3" y="386.1" width="3.95" height="3.95" fill="#8fc49a"/><rect x="460.2" y="386.1" width="3.95" height="3.95" fill="#f8f852"/><rect x="464.1" y="386.1" width="3.95" height="3.95" fill="#f8f852"/><rect x="468.0" y="386.1" width="3.95" height="3.95" fill="#fa8c28"/><rect x="440.7" y="390.0" width="3.95" height="3.95" fill="#f8f852"/><rect x="444.6" y="390.0" width="3.95" height="3.95" fill="#fa8c28"/><rect x="448.5" y="390.0" width="3.95" height="3.95" fill="#f8f852"/><rect x="452.4" y="390.0" width="3.95" height="3.95" fill="#f8f852"/><rect x="456.3" y="390.0" width="3.95" height="3.95" fill="#f8f852"/><rect x="464.1" y="390.0" width="3.95" height="3.95" fill="#fa8c28"/><rect x="468.0" y="390.0" width="3.95" height="3.95" fill="#f8f852"/><rect x="440.7" y="393.9" width="3.95" height="3.95" fill="#8fc49a"/><rect x="444.6" y="393.9" width="3.95" height="3.95" fill="#8fc49a"/><rect x="448.5" y="393.9" width="3.95" height="3.95" fill="#fa8c28"/><rect x="452.4" y="393.9" width="3.95" height="3.95" fill="#f8f852"/><rect x="456.3" y="393.9" width="3.95" height="3.95" fill="#fa8c28"/><rect x="460.2" y="393.9" width="3.95" height="3.95" fill="#f8f852"/><rect x="464.1" y="393.9" width="3.95" height="3.95" fill="#8fc49a"/><rect x="440.7" y="397.8" width="3.95" height="3.95" fill="#8fc49a"/><rect x="444.6" y="397.8" width="3.95" height="3.95" fill="#8fc49a"/><rect x="448.5" y="397.8" width="3.95" height="3.95" fill="#8fc49a"/><rect x="452.4" y="397.8" width="3.95" height="3.95" fill="#fa8c28"/><rect x="456.3" y="397.8" width="3.95" height="3.95" fill="#f8f852"/><rect x="460.2" y="397.8" width="3.95" height="3.95" fill="#8fc49a"/><rect x="464.1" y="397.8" width="3.95" height="3.95" fill="#8fc49a"/><rect x="444.6" y="401.7" width="3.95" height="3.95" fill="#f8f852"/><rect x="448.5" y="401.7" width="3.95" height="3.95" fill="#fa8c28"/><rect x="452.4" y="401.7" width="3.95" height="3.95" fill="#8fc49a"/><rect x="456.3" y="401.7" width="3.95" height="3.95" fill="#8fc49a"/><rect x="460.2" y="401.7" width="3.95" height="3.95" fill="#f8f852"/><rect x="464.1" y="401.7" width="3.95" height="3.95" fill="#8fc49a"/><rect x="448.5" y="405.6" width="3.95" height="3.95" fill="#f8f852"/><rect x="456.3" y="405.6" width="3.95" height="3.95" fill="#f8f852"/><rect x="460.2" y="405.6" width="3.95" height="3.95" fill="#8fc49a"/><rect x="452.4" y="409.5" width="3.95" height="3.95" fill="#f8f852"/><rect x="456.3" y="409.5" width="3.95" height="3.95" fill="#fa8c28"/>
<polygon fill="#fa0a0a" points="433.7,358.6 445.6,355.1 457.4,348 459.8,344.4 459.8,355.1 455.1,359.8 450.3,364.6 445.6,366.9 442,371.7 440.8,381.2 438.5,388.3 433.7,390.7 430.2,393 431.4,385.9 434.9,376.4 432.5,369.3 428,360"/>
<polygon fill="#fa8c28" points="426.6,393 437.3,387.1 442,393 445.6,400.2 449.1,414.4 439.7,418 430.2,413.2 424,404.9"/>
<rect x="436.8" y="390.0" width="3.95" height="3.95" fill="#f8f852"/><rect x="436.8" y="393.9" width="3.95" height="3.95" fill="#f8f852"/><rect x="425.1" y="397.8" width="3.95" height="3.95" fill="#8fc49a"/><rect x="429.0" y="397.8" width="3.95" height="3.95" fill="#f8f852"/><rect x="432.9" y="397.8" width="3.95" height="3.95" fill="#f8f852"/><rect x="436.8" y="397.8" width="3.95" height="3.95" fill="#8fc49a"/><rect x="440.7" y="397.8" width="3.95" height="3.95" fill="#f8f852"/><rect x="436.8" y="401.7" width="3.95" height="3.95" fill="#f8f852"/><rect x="440.7" y="401.7" width="3.95" height="3.95" fill="#f8f852"/><rect x="429.0" y="405.6" width="3.95" height="3.95" fill="#f8f852"/><rect x="432.9" y="405.6" width="3.95" height="3.95" fill="#f8f852"/><rect x="432.9" y="409.5" width="3.95" height="3.95" fill="#f8f852"/><rect x="440.7" y="409.5" width="3.95" height="3.95" fill="#f8f852"/><rect x="444.6" y="409.5" width="3.95" height="3.95" fill="#f8f852"/><rect x="432.9" y="413.4" width="3.95" height="3.95" fill="#f8f852"/><rect x="440.7" y="413.4" width="3.95" height="3.95" fill="#8fc49a"/><rect x="444.6" y="413.4" width="3.95" height="3.95" fill="#f8f852"/>
<polygon fill="#0a90c8" points="447,372 455,370.5 456.3,380 453,388.3 447,388.3"/>
<polygon fill="#fa0a0a" points="460,334 466,334 467,342 460,344"/>
</g>
<circle cx="426" cy="330.5" r="1.5" fill="#f8f852" stroke="#222" stroke-width="0.5"/>
<circle cx="429.5" cy="334" r="1.5" fill="#f8f852" stroke="#222" stroke-width="0.5"/>
<circle cx="434.5" cy="334.5" r="1.5" fill="#f8f852" stroke="#222" stroke-width="0.5"/>
<circle cx="438.5" cy="337.5" r="1.5" fill="#f8f852" stroke="#222" stroke-width="0.5"/>
<ellipse cx="503.7" cy="389.5" rx="2.2" ry="1.6" fill="#0a90c8" stroke="#333" stroke-width="0.6"/>
<rect x="208.5" y="234" width="3" height="4" fill="#0a90c8" stroke="#333" stroke-width="0.4"/>
<rect x="196" y="255.5" width="2" height="2" fill="#0a90c8"/>
<line x1="445.5" y1="316.5" x2="448" y2="316.5" stroke="#555" stroke-width="0.8"/>
<use href="#afo"/><use href="#mgo"/><use href="#brd"/>
<circle cx="107.9" cy="46.8" r="4.1" fill="#000"/>
<circle cx="351.4" cy="68.7" r="4.1" fill="#000"/>
<circle cx="45.6" cy="164.9" r="4.1" fill="#000"/>
<circle cx="359.3" cy="159.2" r="4.1" fill="#000"/>
<circle cx="398.4" cy="200.9" r="4.1" fill="#000"/>
<circle cx="176.9" cy="216.6" r="4.1" fill="#000"/>
<circle cx="440.3" cy="245.2" r="4.1" fill="#000"/>
<circle cx="386.2" cy="265.1" r="4.1" fill="#000"/>
<circle cx="252.2" cy="284.5" r="4.1" fill="#000"/>
<circle cx="401.9" cy="299.8" r="4.1" fill="#000"/>
<circle cx="238.4" cy="312.9" r="4.1" fill="#000"/>
<circle cx="331.2" cy="422" r="4.1" fill="#000"/>
<text class="ct" x="113.3" y="39.7" textLength="67.9" lengthAdjust="spacing">Casablanca</text>
<text class="ct" x="356.4" y="61.6" textLength="31.2" lengthAdjust="spacing">Cairo</text>
<text class="ct" x="51.4" y="157.8" textLength="34.1" lengthAdjust="spacing">Dakar</text>
<text class="ct" x="365.0" y="152.2" textLength="127.0" lengthAdjust="spacing">Khartoum-Omdurman</text>
<text class="ct" x="403.7" y="193.7" textLength="74.6" lengthAdjust="spacing">Addis Ababa</text>
<text class="ct" x="182.1" y="209.3" textLength="36.2" lengthAdjust="spacing">Lagos</text>
<text class="ct" x="445.4" y="237.9" textLength="64.8" lengthAdjust="spacing">Mogadishu</text>
<text class="ct" x="392.1" y="257.9" textLength="42.2" lengthAdjust="spacing">Nairobi</text>
<text class="ct" x="257.2" y="278.0" textLength="122.6" lengthAdjust="spacing">Kinshasa-Brazzaville</text>
<text class="ct" x="407.5" y="292.7" textLength="83.0" lengthAdjust="spacing">Dar es Salaam</text>
<text class="ct" x="243.8" y="305.7" textLength="43.7" lengthAdjust="spacing">Luanda</text>
<text class="ct" x="337.0" y="414.7" textLength="83.0" lengthAdjust="spacing">Johannesburg</text>
<text class="pl" x="24.2" y="39.6">A</text>
<rect x="16.9" y="275.8" width="153.0" height="225.5" fill="none" stroke="#fafafa" stroke-width="1"/>
<rect x="16.4" y="275.3" width="153.0" height="225.5" fill="none" stroke="#5a5a5a" stroke-width="1"/>
<text class="lt" x="17.6" y="294.2">Avg Hda2 per</text>
<text class="lt" x="17.6" y="314.7">year 1961-1990</text>
<rect x="18.2" y="330.6" width="60.4" height="30.4" fill="#0a90c8" stroke="#6a6a6a" stroke-width="1"/>
<text class="ll" x="89.6" y="351.9">0 - 90</text>
<rect x="18.2" y="365.2" width="60.4" height="30.4" fill="#8fc49a" stroke="#6a6a6a" stroke-width="1"/>
<text class="ll" x="89.6" y="386.5">91 - 172</text>
<rect x="18.2" y="399.8" width="60.4" height="30.4" fill="#f8f852" stroke="#6a6a6a" stroke-width="1"/>
<text class="ll" x="89.6" y="421.1">173 - 241</text>
<rect x="18.2" y="434.4" width="60.4" height="30.4" fill="#fa8c28" stroke="#6a6a6a" stroke-width="1"/>
<text class="ll" x="89.6" y="455.7">242 - 315</text>
<rect x="18.2" y="469.0" width="60.4" height="30.4" fill="#fa0a0a" stroke="#6a6a6a" stroke-width="1"/>
<text class="ll" x="89.6" y="490.3">316 - 365</text>
</g>
<g transform="translate(500,0)">
<g clip-path="url(#af)"><rect x="40" y="15" width="450" height="470" fill="#0a90c8"/>
<polygon fill="#8fc49a" points="30,160 45,160 50.5,159.2 82.2,159.2 110.3,157.4 131.4,155.6 159.5,155.6 180.6,159.2 194.7,162.7 208.8,169.7 236.9,169.7 258,166.2 279.1,162.7 293.2,169.7 300.2,187.3 321.3,187.3 348,185 352,172 356,167 372,167 382,162 388,150 391,135 395,120 495,120 495,5 30,5"/>
<polygon fill="#f8f852" points="50.5,124 52,115 58,104 66,94 74,88 79,85.3 79,97 74,104 70,112 66,120 60,124"/>
<polygon fill="#f8f852" points="370,75 375,75 375,82 370,82"/>
<polygon fill="#fa8c28" points="385,158 395,157 402,165 406,178 410,195 413,210 410,224 404,234 392,236 382,228 376,214 374.5,200 376,186 380,172"/>
<rect x="386.1" y="156.0" width="3.95" height="3.95" fill="#fa0a0a"/><rect x="390.0" y="156.0" width="3.95" height="3.95" fill="#fa0a0a"/><rect x="386.1" y="159.9" width="3.95" height="3.95" fill="#8fc49a"/><rect x="390.0" y="159.9" width="3.95" height="3.95" fill="#f8f852"/><rect x="382.2" y="163.8" width="3.95" height="3.95" fill="#fa0a0a"/><rect x="382.2" y="167.7" width="3.95" height="3.95" fill="#fa0a0a"/><rect x="386.1" y="167.7" width="3.95" height="3.95" fill="#f8f852"/><rect x="390.0" y="167.7" width="3.95" height="3.95" fill="#fa0a0a"/><rect x="397.8" y="167.7" width="3.95" height="3.95" fill="#0a90c8"/><rect x="390.0" y="171.6" width="3.95" height="3.95" fill="#f8f852"/><rect x="393.9" y="171.6" width="3.95" height="3.95" fill="#fa0a0a"/><rect x="397.8" y="171.6" width="3.95" height="3.95" fill="#8fc49a"/><rect x="401.7" y="171.6" width="3.95" height="3.95" fill="#fa0a0a"/><rect x="382.2" y="175.5" width="3.95" height="3.95" fill="#0a90c8"/><rect x="386.1" y="175.5" width="3.95" height="3.95" fill="#fa0a0a"/><rect x="390.0" y="175.5" width="3.95" height="3.95" fill="#0a90c8"/><rect x="393.9" y="175.5" width="3.95" height="3.95" fill="#fa0a0a"/><rect x="401.7" y="175.5" width="3.95" height="3.95" fill="#f8f852"/><rect x="382.2" y="179.4" width="3.95" height="3.95" fill="#0a90c8"/><rect x="386.1" y="179.4" width="3.95" height="3.95" fill="#f8f852"/><rect x="374.4" y="183.3" width="3.95" height="3.95" fill="#fa0a0a"/><rect x="378.3" y="183.3" width="3.95" height="3.95" fill="#fa0a0a"/><rect x="386.1" y="183.3" width="3.95" height="3.95" fill="#f8f852"/><rect x="393.9" y="183.3" width="3.95" height="3.95" fill="#f8f852"/><rect x="401.7" y="183.3" width="3.95" height="3.95" fill="#fa0a0a"/><rect x="374.4" y="187.2" width="3.95" height="3.95" fill="#0a90c8"/><rect x="378.3" y="187.2" width="3.95" height="3.95" fill="#8fc49a"/><rect x="386.1" y="187.2" width="3.95" height="3.95" fill="#8fc49a"/><rect x="393.9" y="187.2" width="3.95" height="3.95" fill="#fa0a0a"/><rect x="397.8" y="187.2" width="3.95" height="3.95" fill="#8fc49a"/><rect x="401.7" y="187.2" width="3.95" height="3.95" fill="#f8f852"/><rect x="382.2" y="191.1" width="3.95" height="3.95" fill="#f8f852"/><rect x="401.7" y="191.1" width="3.95" height="3.95" fill="#fa0a0a"/><rect x="374.4" y="195.0" width="3.95" height="3.95" fill="#fa0a0a"/><rect x="378.3" y="195.0" width="3.95" height="3.95" fill="#fa0a0a"/><rect x="382.2" y="195.0" width="3.95" height="3.95" fill="#0a90c8"/><rect x="386.1" y="195.0" width="3.95" height="3.95" fill="#fa0a0a"/><rect x="390.0" y="195.0" width="3.95" height="3.95" fill="#fa0a0a"/><rect x="393.9" y="195.0" width="3.95" height="3.95" fill="#8fc49a"/><rect x="405.6" y="195.0" width="3.95" height="3.95" fill="#0a90c8"/><rect x="382.2" y="198.9" width="3.95" height="3.95" fill="#f8f852"/><rect x="386.1" y="198.9" width="3.95" height="3.95" fill="#0a90c8"/><rect x="393.9" y="198.9" width="3.95" height="3.95" fill="#0a90c8"/><rect x="397.8" y="198.9" width="3.95" height="3.95" fill="#8fc49a"/><rect x="401.7" y="198.9" width="3.95" height="3.95" fill="#f8f852"/><rect x="405.6" y="198.9" width="3.95" height="3.95" fill="#fa0a0a"/><rect x="378.3" y="202.8" width="3.95" height="3.95" fill="#0a90c8"/><rect x="386.1" y="202.8" width="3.95" height="3.95" fill="#f8f852"/><rect x="393.9" y="202.8" width="3.95" height="3.95" fill="#8fc49a"/><rect x="397.8" y="202.8" width="3.95" height="3.95" fill="#fa0a0a"/><rect x="409.5" y="202.8" width="3.95" height="3.95" fill="#f8f852"/><rect x="382.2" y="206.7" width="3.95" height="3.95" fill="#fa0a0a"/><rect x="386.1" y="206.7" width="3.95" height="3.95" fill="#8fc49a"/><rect x="390.0" y="206.7" width="3.95" height="3.95" fill="#f8f852"/><rect x="397.8" y="206.7" width="3.95" height="3.95" fill="#0a90c8"/><rect x="374.4" y="210.6" width="3.95" height="3.95" fill="#fa0a0a"/><rect x="386.1" y="210.6" width="3.95" height="3.95" fill="#fa0a0a"/><rect x="390.0" y="210.6" width="3.95" height="3.95" fill="#fa0a0a"/><rect x="397.8" y="210.6" width="3.95" height="3.95" fill="#fa0a0a"/><rect x="401.7" y="210.6" width="3.95" height="3.95" fill="#8fc49a"/><rect x="405.6" y="210.6" width="3.95" height="3.95" fill="#0a90c8"/><rect x="409.5" y="210.6" width="3.95" height="3.95" fill="#f8f852"/><rect x="378.3" y="214.5" width="3.95" height="3.95" fill="#fa0a0a"/><rect x="393.9" y="214.5" width="3.95" height="3.95" fill="#0a90c8"/><rect x="397.8" y="214.5" width="3.95" height="3.95" fill="#f8f852"/><rect x="401.7" y="214.5" width="3.95" height="3.95" fill="#0a90c8"/><rect x="409.5" y="214.5" width="3.95" height="3.95" fill="#f8f852"/><rect x="378.3" y="218.4" width="3.95" height="3.95" fill="#f8f852"/><rect x="386.1" y="218.4" width="3.95" height="3.95" fill="#0a90c8"/><rect x="393.9" y="218.4" width="3.95" height="3.95" fill="#fa0a0a"/><rect x="397.8" y="218.4" width="3.95" height="3.95" fill="#f8f852"/><rect x="401.7" y="218.4" width="3.95" height="3.95" fill="#0a90c8"/><rect x="405.6" y="218.4" width="3.95" height="3.95" fill="#f8f852"/><rect x="382.2" y="222.3" width="3.95" height="3.95" fill="#fa0a0a"/><rect x="386.1" y="222.3" width="3.95" height="3.95" fill="#f8f852"/><rect x="390.0" y="222.3" width="3.95" height="3.95" fill="#0a90c8"/><rect x="393.9" y="222.3" width="3.95" height="3.95" fill="#8fc49a"/><rect x="397.8" y="222.3" width="3.95" height="3.95" fill="#fa0a0a"/><rect x="401.7" y="222.3" width="3.95" height="3.95" fill="#f8f852"/><rect x="405.6" y="222.3" width="3.95" height="3.95" fill="#8fc49a"/><rect x="382.2" y="226.2" width="3.95" height="3.95" fill="#fa0a0a"/><rect x="386.1" y="226.2" width="3.95" height="3.95" fill="#f8f852"/><rect x="393.9" y="226.2" width="3.95" height="3.95" fill="#f8f852"/><rect x="397.8" y="226.2" width="3.95" height="3.95" fill="#0a90c8"/><rect x="401.7" y="226.2" width="3.95" height="3.95" fill="#8fc49a"/><rect x="386.1" y="230.1" width="3.95" height="3.95" fill="#8fc49a"/><rect x="393.9" y="230.1" width="3.95" height="3.95" fill="#f8f852"/><rect x="401.7" y="230.1" width="3.95" height="3.95" fill="#f8f852"/>
<rect x="386.1" y="202.8" width="3.95" height="3.95" fill="#0a90c8"/><rect x="393.9" y="202.8" width="3.95" height="3.95" fill="#8fc49a"/><rect x="397.8" y="202.8" width="3.95" height="3.95" fill="#f8f852"/><rect x="401.7" y="202.8" width="3.95" height="3.95" fill="#f8f852"/><rect x="386.1" y="206.7" width="3.95" height="3.95" fill="#0a90c8"/><rect x="390.0" y="206.7" width="3.95" height="3.95" fill="#0a90c8"/><rect x="393.9" y="206.7" width="3.95" height="3.95" fill="#0a90c8"/><rect x="401.7" y="206.7" width="3.95" height="3.95" fill="#0a90c8"/><rect x="386.1" y="210.6" width="3.95" height="3.95" fill="#0a90c8"/><rect x="390.0" y="210.6" width="3.95" height="3.95" fill="#8fc49a"/><rect x="393.9" y="210.6" width="3.95" height="3.95" fill="#0a90c8"/><rect x="397.8" y="210.6" width="3.95" height="3.95" fill="#0a90c8"/><rect x="386.1" y="214.5" width="3.95" height="3.95" fill="#0a90c8"/><rect x="393.9" y="214.5" width="3.95" height="3.95" fill="#f8f852"/><rect x="397.8" y="214.5" width="3.95" height="3.95" fill="#0a90c8"/><rect x="386.1" y="218.4" width="3.95" height="3.95" fill="#0a90c8"/><rect x="390.0" y="218.4" width="3.95" height="3.95" fill="#0a90c8"/><rect x="393.9" y="218.4" width="3.95" height="3.95" fill="#0a90c8"/><rect x="397.8" y="218.4" width="3.95" height="3.95" fill="#0a90c8"/><rect x="401.7" y="218.4" width="3.95" height="3.95" fill="#f8f852"/>
<rect x="382.2" y="159.9" width="3.95" height="3.95" fill="#fa8c28"/><rect x="386.1" y="159.9" width="3.95" height="3.95" fill="#fa8c28"/><rect x="390.0" y="159.9" width="3.95" height="3.95" fill="#f8f852"/><rect x="393.9" y="159.9" width="3.95" height="3.95" fill="#fa8c28"/><rect x="382.2" y="163.8" width="3.95" height="3.95" fill="#fa8c28"/><rect x="386.1" y="163.8" width="3.95" height="3.95" fill="#fa8c28"/><rect x="390.0" y="163.8" width="3.95" height="3.95" fill="#f8f852"/><rect x="393.9" y="163.8" width="3.95" height="3.95" fill="#f8f852"/><rect x="397.8" y="163.8" width="3.95" height="3.95" fill="#fa8c28"/><rect x="382.2" y="167.7" width="3.95" height="3.95" fill="#fa8c28"/><rect x="390.0" y="167.7" width="3.95" height="3.95" fill="#f8f852"/><rect x="393.9" y="167.7" width="3.95" height="3.95" fill="#f8f852"/><rect x="397.8" y="167.7" width="3.95" height="3.95" fill="#f8f852"/><rect x="386.1" y="171.6" width="3.95" height="3.95" fill="#f8f852"/><rect x="390.0" y="171.6" width="3.95" height="3.95" fill="#fa8c28"/><rect x="393.9" y="171.6" width="3.95" height="3.95" fill="#f8f852"/><rect x="397.8" y="171.6" width="3.95" height="3.95" fill="#fa8c28"/><rect x="401.7" y="171.6" width="3.95" height="3.95" fill="#f8f852"/><rect x="382.2" y="175.5" width="3.95" height="3.95" fill="#fa8c28"/><rect x="386.1" y="175.5" width="3.95" height="3.95" fill="#fa8c28"/><rect x="390.0" y="175.5" width="3.95" height="3.95" fill="#fa8c28"/><rect x="393.9" y="175.5" width="3.95" height="3.95" fill="#fa8c28"/><rect x="397.8" y="175.5" width="3.95" height="3.95" fill="#fa8c28"/><rect x="401.7" y="175.5" width="3.95" height="3.95" fill="#fa8c28"/><rect x="382.2" y="179.4" width="3.95" height="3.95" fill="#f8f852"/><rect x="386.1" y="179.4" width="3.95" height="3.95" fill="#f8f852"/><rect x="393.9" y="179.4" width="3.95" height="3.95" fill="#f8f852"/><rect x="397.8" y="179.4" width="3.95" height="3.95" fill="#fa8c28"/><rect x="401.7" y="179.4" width="3.95" height="3.95" fill="#f8f852"/>
<polygon fill="#f8f852" points="412,192 440,192 470,186 478,184 472,200 455,206 440,212 425,214 414,212"/>
<rect x="471.9" y="183.3" width="3.95" height="3.95" fill="#8fc49a"/><rect x="452.4" y="187.2" width="3.95" height="3.95" fill="#8fc49a"/><rect x="460.2" y="187.2" width="3.95" height="3.95" fill="#8fc49a"/><rect x="464.1" y="187.2" width="3.95" height="3.95" fill="#fa8c28"/><rect x="468.0" y="187.2" width="3.95" height="3.95" fill="#0a90c8"/><rect x="471.9" y="187.2" width="3.95" height="3.95" fill="#fa8c28"/><rect x="413.4" y="191.1" width="3.95" height="3.95" fill="#fa8c28"/><rect x="417.3" y="191.1" width="3.95" height="3.95" fill="#f8f852"/><rect x="421.2" y="191.1" width="3.95" height="3.95" fill="#f8f852"/><rect x="425.1" y="191.1" width="3.95" height="3.95" fill="#0a90c8"/><rect x="429.0" y="191.1" width="3.95" height="3.95" fill="#8fc49a"/><rect x="432.9" y="191.1" width="3.95" height="3.95" fill="#f8f852"/><rect x="436.8" y="191.1" width="3.95" height="3.95" fill="#8fc49a"/><rect x="440.7" y="191.1" width="3.95" height="3.95" fill="#f8f852"/><rect x="444.6" y="191.1" width="3.95" height="3.95" fill="#fa8c28"/><rect x="448.5" y="191.1" width="3.95" height="3.95" fill="#8fc49a"/><rect x="452.4" y="191.1" width="3.95" height="3.95" fill="#f8f852"/><rect x="456.3" y="191.1" width="3.95" height="3.95" fill="#0a90c8"/><rect x="460.2" y="191.1" width="3.95" height="3.95" fill="#f8f852"/><rect x="464.1" y="191.1" width="3.95" height="3.95" fill="#8fc49a"/><rect x="468.0" y="191.1" width="3.95" height="3.95" fill="#f8f852"/><rect x="471.9" y="191.1" width="3.95" height="3.95" fill="#fa8c28"/><rect x="413.4" y="195.0" width="3.95" height="3.95" fill="#f8f852"/><rect x="417.3" y="195.0" width="3.95" height="3.95" fill="#8fc49a"/><rect x="421.2" y="195.0" width="3.95" height="3.95" fill="#fa8c28"/><rect x="425.1" y="195.0" width="3.95" height="3.95" fill="#8fc49a"/><rect x="429.0" y="195.0" width="3.95" height="3.95" fill="#8fc49a"/><rect x="432.9" y="195.0" width="3.95" height="3.95" fill="#8fc49a"/><rect x="436.8" y="195.0" width="3.95" height="3.95" fill="#8fc49a"/><rect x="440.7" y="195.0" width="3.95" height="3.95" fill="#8fc49a"/><rect x="444.6" y="195.0" width="3.95" height="3.95" fill="#f8f852"/><rect x="448.5" y="195.0" width="3.95" height="3.95" fill="#8fc49a"/><rect x="452.4" y="195.0" width="3.95" height="3.95" fill="#f8f852"/><rect x="456.3" y="195.0" width="3.95" height="3.95" fill="#0a90c8"/><rect x="464.1" y="195.0" width="3.95" height="3.95" fill="#f8f852"/><rect x="468.0" y="195.0" width="3.95" height="3.95" fill="#f8f852"/><rect x="413.4" y="198.9" width="3.95" height="3.95" fill="#fa8c28"/><rect x="421.2" y="198.9" width="3.95" height="3.95" fill="#8fc49a"/><rect x="425.1" y="198.9" width="3.95" height="3.95" fill="#8fc49a"/><rect x="429.0" y="198.9" width="3.95" height="3.95" fill="#8fc49a"/><rect x="436.8" y="198.9" width="3.95" height="3.95" fill="#8fc49a"/><rect x="440.7" y="198.9" width="3.95" height="3.95" fill="#8fc49a"/><rect x="444.6" y="198.9" width="3.95" height="3.95" fill="#f8f852"/><rect x="448.5" y="198.9" width="3.95" height="3.95" fill="#fa8c28"/><rect x="452.4" y="198.9" width="3.95" height="3.95" fill="#8fc49a"/><rect x="456.3" y="198.9" width="3.95" height="3.95" fill="#8fc49a"/><rect x="460.2" y="198.9" width="3.95" height="3.95" fill="#8fc49a"/><rect x="464.1" y="198.9" width="3.95" height="3.95" fill="#f8f852"/><rect x="417.3" y="202.8" width="3.95" height="3.95" fill="#8fc49a"/><rect x="421.2" y="202.8" width="3.95" height="3.95" fill="#8fc49a"/><rect x="425.1" y="202.8" width="3.95" height="3.95" fill="#f8f852"/><rect x="429.0" y="202.8" width="3.95" height="3.95" fill="#f8f852"/><rect x="432.9" y="202.8" width="3.95" height="3.95" fill="#f8f852"/><rect x="436.8" y="202.8" width="3.95" height="3.95" fill="#f8f852"/><rect x="440.7" y="202.8" width="3.95" height="3.95" fill="#0a90c8"/><rect x="444.6" y="202.8" width="3.95" height="3.95" fill="#8fc49a"/><rect x="448.5" y="202.8" width="3.95" height="3.95" fill="#f8f852"/><rect x="452.4" y="202.8" width="3.95" height="3.95" fill="#fa8c28"/><rect x="413.4" y="206.7" width="3.95" height="3.95" fill="#fa8c28"/><rect x="417.3" y="206.7" width="3.95" height="3.95" fill="#8fc49a"/><rect x="421.2" y="206.7" width="3.95" height="3.95" fill="#0a90c8"/><rect x="425.1" y="206.7" width="3.95" height="3.95" fill="#8fc49a"/><rect x="429.0" y="206.7" width="3.95" height="3.95" fill="#8fc49a"/><rect x="436.8" y="206.7" width="3.95" height="3.95" fill="#8fc49a"/><rect x="440.7" y="206.7" width="3.95" height="3.95" fill="#fa8c28"/><rect x="444.6" y="206.7" width="3.95" height="3.95" fill="#8fc49a"/><rect x="417.3" y="210.6" width="3.95" height="3.95" fill="#f8f852"/><rect x="421.2" y="210.6" width="3.95" height="3.95" fill="#8fc49a"/><rect x="425.1" y="210.6" width="3.95" height="3.95" fill="#8fc49a"/><rect x="429.0" y="210.6" width="3.95" height="3.95" fill="#8fc49a"/><rect x="432.9" y="210.6" width="3.95" height="3.95" fill="#8fc49a"/>
<polygon fill="#f8f852" points="371,244 385,242 395,248 395,272 385,274 372,268"/>
<rect x="374.4" y="241.8" width="3.95" height="3.95" fill="#fa0a0a"/><rect x="378.3" y="241.8" width="3.95" height="3.95" fill="#0a90c8"/><rect x="382.2" y="241.8" width="3.95" height="3.95" fill="#fa0a0a"/><rect x="370.5" y="245.7" width="3.95" height="3.95" fill="#0a90c8"/><rect x="374.4" y="245.7" width="3.95" height="3.95" fill="#8fc49a"/><rect x="378.3" y="245.7" width="3.95" height="3.95" fill="#fa8c28"/><rect x="382.2" y="245.7" width="3.95" height="3.95" fill="#fa0a0a"/><rect x="386.1" y="245.7" width="3.95" height="3.95" fill="#f8f852"/><rect x="390.0" y="245.7" width="3.95" height="3.95" fill="#0a90c8"/><rect x="370.5" y="249.6" width="3.95" height="3.95" fill="#fa0a0a"/><rect x="374.4" y="249.6" width="3.95" height="3.95" fill="#fa0a0a"/><rect x="378.3" y="249.6" width="3.95" height="3.95" fill="#8fc49a"/><rect x="382.2" y="249.6" width="3.95" height="3.95" fill="#8fc49a"/><rect x="386.1" y="249.6" width="3.95" height="3.95" fill="#0a90c8"/><rect x="390.0" y="249.6" width="3.95" height="3.95" fill="#fa0a0a"/><rect x="370.5" y="253.5" width="3.95" height="3.95" fill="#0a90c8"/><rect x="374.4" y="253.5" width="3.95" height="3.95" fill="#fa0a0a"/><rect x="378.3" y="253.5" width="3.95" height="3.95" fill="#f8f852"/><rect x="382.2" y="253.5" width="3.95" height="3.95" fill="#f8f852"/><rect x="386.1" y="253.5" width="3.95" height="3.95" fill="#fa0a0a"/><rect x="390.0" y="253.5" width="3.95" height="3.95" fill="#0a90c8"/><rect x="370.5" y="257.4" width="3.95" height="3.95" fill="#0a90c8"/><rect x="374.4" y="257.4" width="3.95" height="3.95" fill="#fa8c28"/><rect x="378.3" y="257.4" width="3.95" height="3.95" fill="#0a90c8"/><rect x="382.2" y="257.4" width="3.95" height="3.95" fill="#f8f852"/><rect x="386.1" y="257.4" width="3.95" height="3.95" fill="#8fc49a"/><rect x="390.0" y="257.4" width="3.95" height="3.95" fill="#fa8c28"/><rect x="370.5" y="261.3" width="3.95" height="3.95" fill="#fa8c28"/><rect x="374.4" y="261.3" width="3.95" height="3.95" fill="#fa0a0a"/><rect x="378.3" y="261.3" width="3.95" height="3.95" fill="#fa0a0a"/><rect x="382.2" y="261.3" width="3.95" height="3.95" fill="#fa0a0a"/><rect x="386.1" y="261.3" width="3.95" height="3.95" fill="#fa8c28"/><rect x="390.0" y="261.3" width="3.95" height="3.95" fill="#0a90c8"/><rect x="370.5" y="265.2" width="3.95" height="3.95" fill="#fa0a0a"/><rect x="374.4" y="265.2" width="3.95" height="3.95" fill="#f8f852"/><rect x="378.3" y="265.2" width="3.95" height="3.95" fill="#8fc49a"/><rect x="382.2" y="265.2" width="3.95" height="3.95" fill="#fa0a0a"/><rect x="386.1" y="265.2" width="3.95" height="3.95" fill="#fa0a0a"/><rect x="390.0" y="265.2" width="3.95" height="3.95" fill="#fa0a0a"/><rect x="378.3" y="269.1" width="3.95" height="3.95" fill="#f8f852"/><rect x="382.2" y="269.1" width="3.95" height="3.95" fill="#0a90c8"/><rect x="386.1" y="269.1" width="3.95" height="3.95" fill="#fa0a0a"/><rect x="390.0" y="269.1" width="3.95" height="3.95" fill="#fa8c28"/>
<polygon fill="#f8f852" points="334,254 348,252 356,262 356,280 346,282 334,272"/>
<rect x="335.4" y="253.5" width="3.95" height="3.95" fill="#fa0a0a"/><rect x="339.3" y="253.5" width="3.95" height="3.95" fill="#fa0a0a"/><rect x="343.2" y="253.5" width="3.95" height="3.95" fill="#fa0a0a"/><rect x="347.1" y="253.5" width="3.95" height="3.95" fill="#fa0a0a"/><rect x="335.4" y="257.4" width="3.95" height="3.95" fill="#fa8c28"/><rect x="339.3" y="257.4" width="3.95" height="3.95" fill="#fa0a0a"/><rect x="343.2" y="257.4" width="3.95" height="3.95" fill="#0a90c8"/><rect x="347.1" y="257.4" width="3.95" height="3.95" fill="#0a90c8"/><rect x="351.0" y="257.4" width="3.95" height="3.95" fill="#8fc49a"/><rect x="335.4" y="261.3" width="3.95" height="3.95" fill="#8fc49a"/><rect x="339.3" y="261.3" width="3.95" height="3.95" fill="#fa0a0a"/><rect x="343.2" y="261.3" width="3.95" height="3.95" fill="#fa0a0a"/><rect x="347.1" y="261.3" width="3.95" height="3.95" fill="#fa0a0a"/><rect x="351.0" y="261.3" width="3.95" height="3.95" fill="#fa0a0a"/><rect x="335.4" y="265.2" width="3.95" height="3.95" fill="#f8f852"/><rect x="339.3" y="265.2" width="3.95" height="3.95" fill="#8fc49a"/><rect x="343.2" y="265.2" width="3.95" height="3.95" fill="#fa8c28"/><rect x="347.1" y="265.2" width="3.95" height="3.95" fill="#fa0a0a"/><rect x="351.0" y="265.2" width="3.95" height="3.95" fill="#fa0a0a"/><rect x="335.4" y="269.1" width="3.95" height="3.95" fill="#0a90c8"/><rect x="339.3" y="269.1" width="3.95" height="3.95" fill="#f8f852"/><rect x="343.2" y="269.1" width="3.95" height="3.95" fill="#fa0a0a"/><rect x="347.1" y="269.1" width="3.95" height="3.95" fill="#fa0a0a"/><rect x="351.0" y="269.1" width="3.95" height="3.95" fill="#fa0a0a"/><rect x="339.3" y="273.0" width="3.95" height="3.95" fill="#8fc49a"/><rect x="343.2" y="273.0" width="3.95" height="3.95" fill="#fa0a0a"/><rect x="347.1" y="273.0" width="3.95" height="3.95" fill="#0a90c8"/><rect x="351.0" y="273.0" width="3.95" height="3.95" fill="#f8f852"/><rect x="343.2" y="276.9" width="3.95" height="3.95" fill="#8fc49a"/><rect x="347.1" y="276.9" width="3.95" height="3.95" fill="#f8f852"/><rect x="351.0" y="276.9" width="3.95" height="3.95" fill="#fa0a0a"/>
<polygon fill="#8fc49a" points="30,330 220,330 240.8,321.5 247,317.4 261.5,315.3 282.3,317.4 292.7,319.5 303,320.5 313.5,319.5 323.8,313.2 332.1,305 336.3,296.6 338.4,288.3 350,300 365,318 380,330 395,335 420,335 495,335 495,495 30,495"/>
<polygon fill="#f8f852" points="338,272 360,270 380,274 396,284 398,310 392,326 378,332 360,330 342,322 336,300"/>
<polygon fill="#fa8c28" points="362,278 376,276 388,284 390,300 384,312 372,316 360,310 356,294"/>
<rect x="351.0" y="269.1" width="3.95" height="3.95" fill="#8fc49a"/><rect x="354.9" y="269.1" width="3.95" height="3.95" fill="#f8f852"/><rect x="358.8" y="269.1" width="3.95" height="3.95" fill="#f8f852"/><rect x="343.2" y="273.0" width="3.95" height="3.95" fill="#8fc49a"/><rect x="347.1" y="273.0" width="3.95" height="3.95" fill="#0a90c8"/><rect x="354.9" y="273.0" width="3.95" height="3.95" fill="#f8f852"/><rect x="358.8" y="273.0" width="3.95" height="3.95" fill="#fa8c28"/><rect x="362.7" y="273.0" width="3.95" height="3.95" fill="#fa0a0a"/><rect x="370.5" y="273.0" width="3.95" height="3.95" fill="#fa8c28"/><rect x="374.4" y="273.0" width="3.95" height="3.95" fill="#0a90c8"/><rect x="378.3" y="273.0" width="3.95" height="3.95" fill="#f8f852"/><rect x="339.3" y="276.9" width="3.95" height="3.95" fill="#8fc49a"/><rect x="343.2" y="276.9" width="3.95" height="3.95" fill="#8fc49a"/><rect x="347.1" y="276.9" width="3.95" height="3.95" fill="#0a90c8"/><rect x="354.9" y="276.9" width="3.95" height="3.95" fill="#fa8c28"/><rect x="362.7" y="276.9" width="3.95" height="3.95" fill="#8fc49a"/><rect x="366.6" y="276.9" width="3.95" height="3.95" fill="#fa8c28"/><rect x="370.5" y="276.9" width="3.95" height="3.95" fill="#fa0a0a"/><rect x="374.4" y="276.9" width="3.95" height="3.95" fill="#fa8c28"/><rect x="378.3" y="276.9" width="3.95" height="3.95" fill="#8fc49a"/><rect x="382.2" y="276.9" width="3.95" height="3.95" fill="#8fc49a"/><rect x="335.4" y="280.8" width="3.95" height="3.95" fill="#fa8c28"/><rect x="343.2" y="280.8" width="3.95" height="3.95" fill="#8fc49a"/><rect x="351.0" y="280.8" width="3.95" height="3.95" fill="#f8f852"/><rect x="354.9" y="280.8" width="3.95" height="3.95" fill="#fa8c28"/><rect x="358.8" y="280.8" width="3.95" height="3.95" fill="#fa8c28"/><rect x="366.6" y="280.8" width="3.95" height="3.95" fill="#f8f852"/><rect x="370.5" y="280.8" width="3.95" height="3.95" fill="#0a90c8"/><rect x="382.2" y="280.8" width="3.95" height="3.95" fill="#0a90c8"/><rect x="386.1" y="280.8" width="3.95" height="3.95" fill="#fa8c28"/><rect x="339.3" y="284.7" width="3.95" height="3.95" fill="#fa8c28"/><rect x="347.1" y="284.7" width="3.95" height="3.95" fill="#f8f852"/><rect x="351.0" y="284.7" width="3.95" height="3.95" fill="#f8f852"/><rect x="362.7" y="284.7" width="3.95" height="3.95" fill="#fa0a0a"/><rect x="366.6" y="284.7" width="3.95" height="3.95" fill="#0a90c8"/><rect x="374.4" y="284.7" width="3.95" height="3.95" fill="#fa8c28"/><rect x="378.3" y="284.7" width="3.95" height="3.95" fill="#f8f852"/><rect x="382.2" y="284.7" width="3.95" height="3.95" fill="#fa8c28"/><rect x="386.1" y="284.7" width="3.95" height="3.95" fill="#f8f852"/><rect x="390.0" y="284.7" width="3.95" height="3.95" fill="#fa0a0a"/><rect x="393.9" y="284.7" width="3.95" height="3.95" fill="#fa8c28"/><rect x="354.9" y="288.6" width="3.95" height="3.95" fill="#8fc49a"/><rect x="358.8" y="288.6" width="3.95" height="3.95" fill="#fa8c28"/><rect x="362.7" y="288.6" width="3.95" height="3.95" fill="#8fc49a"/><rect x="366.6" y="288.6" width="3.95" height="3.95" fill="#0a90c8"/><rect x="370.5" y="288.6" width="3.95" height="3.95" fill="#8fc49a"/><rect x="378.3" y="288.6" width="3.95" height="3.95" fill="#0a90c8"/><rect x="386.1" y="288.6" width="3.95" height="3.95" fill="#8fc49a"/><rect x="390.0" y="288.6" width="3.95" height="3.95" fill="#8fc49a"/><rect x="393.9" y="288.6" width="3.95" height="3.95" fill="#f8f852"/><rect x="343.2" y="292.5" width="3.95" height="3.95" fill="#f8f852"/><rect x="351.0" y="292.5" width="3.95" height="3.95" fill="#fa8c28"/><rect x="366.6" y="292.5" width="3.95" height="3.95" fill="#f8f852"/><rect x="370.5" y="292.5" width="3.95" height="3.95" fill="#fa8c28"/><rect x="374.4" y="292.5" width="3.95" height="3.95" fill="#fa8c28"/><rect x="378.3" y="292.5" width="3.95" height="3.95" fill="#fa8c28"/><rect x="382.2" y="292.5" width="3.95" height="3.95" fill="#fa8c28"/><rect x="386.1" y="292.5" width="3.95" height="3.95" fill="#fa8c28"/><rect x="390.0" y="292.5" width="3.95" height="3.95" fill="#fa8c28"/><rect x="393.9" y="292.5" width="3.95" height="3.95" fill="#fa0a0a"/><rect x="347.1" y="296.4" width="3.95" height="3.95" fill="#fa8c28"/><rect x="354.9" y="296.4" width="3.95" height="3.95" fill="#f8f852"/><rect x="358.8" y="296.4" width="3.95" height="3.95" fill="#fa8c28"/><rect x="362.7" y="296.4" width="3.95" height="3.95" fill="#fa8c28"/><rect x="366.6" y="296.4" width="3.95" height="3.95" fill="#0a90c8"/><rect x="374.4" y="296.4" width="3.95" height="3.95" fill="#fa8c28"/><rect x="378.3" y="296.4" width="3.95" height="3.95" fill="#0a90c8"/><rect x="382.2" y="296.4" width="3.95" height="3.95" fill="#fa8c28"/><rect x="386.1" y="296.4" width="3.95" height="3.95" fill="#f8f852"/><rect x="390.0" y="296.4" width="3.95" height="3.95" fill="#fa8c28"/><rect x="393.9" y="296.4" width="3.95" height="3.95" fill="#fa0a0a"/><rect x="339.3" y="300.3" width="3.95" height="3.95" fill="#fa8c28"/><rect x="343.2" y="300.3" width="3.95" height="3.95" fill="#fa8c28"/><rect x="347.1" y="300.3" width="3.95" height="3.95" fill="#fa8c28"/><rect x="351.0" y="300.3" width="3.95" height="3.95" fill="#fa8c28"/><rect x="358.8" y="300.3" width="3.95" height="3.95" fill="#fa8c28"/><rect x="362.7" y="300.3" width="3.95" height="3.95" fill="#f8f852"/><rect x="366.6" y="300.3" width="3.95" height="3.95" fill="#8fc49a"/><rect x="370.5" y="300.3" width="3.95" height="3.95" fill="#fa8c28"/><rect x="374.4" y="300.3" width="3.95" height="3.95" fill="#fa8c28"/><rect x="378.3" y="300.3" width="3.95" height="3.95" fill="#fa8c28"/><rect x="382.2" y="300.3" width="3.95" height="3.95" fill="#fa8c28"/><rect x="386.1" y="300.3" width="3.95" height="3.95" fill="#fa8c28"/><rect x="339.3" y="304.2" width="3.95" height="3.95" fill="#fa8c28"/><rect x="343.2" y="304.2" width="3.95" height="3.95" fill="#8fc49a"/><rect x="354.9" y="304.2" width="3.95" height="3.95" fill="#fa8c28"/><rect x="358.8" y="304.2" width="3.95" height="3.95" fill="#f8f852"/><rect x="366.6" y="304.2" width="3.95" height="3.95" fill="#fa8c28"/><rect x="370.5" y="304.2" width="3.95" height="3.95" fill="#0a90c8"/><rect x="374.4" y="304.2" width="3.95" height="3.95" fill="#f8f852"/><rect x="378.3" y="304.2" width="3.95" height="3.95" fill="#fa0a0a"/><rect x="386.1" y="304.2" width="3.95" height="3.95" fill="#0a90c8"/><rect x="390.0" y="304.2" width="3.95" height="3.95" fill="#8fc49a"/><rect x="343.2" y="308.1" width="3.95" height="3.95" fill="#f8f852"/><rect x="347.1" y="308.1" width="3.95" height="3.95" fill="#8fc49a"/><rect x="351.0" y="308.1" width="3.95" height="3.95" fill="#8fc49a"/><rect x="354.9" y="308.1" width="3.95" height="3.95" fill="#fa8c28"/><rect x="362.7" y="308.1" width="3.95" height="3.95" fill="#fa8c28"/><rect x="370.5" y="308.1" width="3.95" height="3.95" fill="#fa8c28"/><rect x="382.2" y="308.1" width="3.95" height="3.95" fill="#fa8c28"/><rect x="386.1" y="308.1" width="3.95" height="3.95" fill="#8fc49a"/><rect x="390.0" y="308.1" width="3.95" height="3.95" fill="#fa0a0a"/><rect x="393.9" y="308.1" width="3.95" height="3.95" fill="#fa8c28"/><rect x="343.2" y="312.0" width="3.95" height="3.95" fill="#8fc49a"/><rect x="347.1" y="312.0" width="3.95" height="3.95" fill="#8fc49a"/><rect x="354.9" y="312.0" width="3.95" height="3.95" fill="#f8f852"/><rect x="370.5" y="312.0" width="3.95" height="3.95" fill="#fa8c28"/><rect x="378.3" y="312.0" width="3.95" height="3.95" fill="#fa8c28"/><rect x="393.9" y="312.0" width="3.95" height="3.95" fill="#f8f852"/><rect x="339.3" y="315.9" width="3.95" height="3.95" fill="#fa8c28"/><rect x="347.1" y="315.9" width="3.95" height="3.95" fill="#fa0a0a"/><rect x="351.0" y="315.9" width="3.95" height="3.95" fill="#8fc49a"/><rect x="362.7" y="315.9" width="3.95" height="3.95" fill="#fa8c28"/><rect x="366.6" y="315.9" width="3.95" height="3.95" fill="#fa8c28"/><rect x="370.5" y="315.9" width="3.95" height="3.95" fill="#fa8c28"/><rect x="374.4" y="315.9" width="3.95" height="3.95" fill="#fa8c28"/><rect x="378.3" y="315.9" width="3.95" height="3.95" fill="#8fc49a"/><rect x="386.1" y="315.9" width="3.95" height="3.95" fill="#fa8c28"/><rect x="343.2" y="319.8" width="3.95" height="3.95" fill="#fa0a0a"/><rect x="347.1" y="319.8" width="3.95" height="3.95" fill="#fa8c28"/><rect x="351.0" y="319.8" width="3.95" height="3.95" fill="#f8f852"/><rect x="358.8" y="319.8" width="3.95" height="3.95" fill="#f8f852"/><rect x="362.7" y="319.8" width="3.95" height="3.95" fill="#8fc49a"/><rect x="366.6" y="319.8" width="3.95" height="3.95" fill="#fa8c28"/><rect x="374.4" y="319.8" width="3.95" height="3.95" fill="#8fc49a"/><rect x="378.3" y="319.8" width="3.95" height="3.95" fill="#8fc49a"/><rect x="382.2" y="319.8" width="3.95" height="3.95" fill="#8fc49a"/><rect x="351.0" y="323.7" width="3.95" height="3.95" fill="#0a90c8"/><rect x="354.9" y="323.7" width="3.95" height="3.95" fill="#fa8c28"/><rect x="362.7" y="323.7" width="3.95" height="3.95" fill="#0a90c8"/><rect x="374.4" y="323.7" width="3.95" height="3.95" fill="#8fc49a"/><rect x="382.2" y="323.7" width="3.95" height="3.95" fill="#fa0a0a"/><rect x="386.1" y="323.7" width="3.95" height="3.95" fill="#f8f852"/><rect x="358.8" y="327.6" width="3.95" height="3.95" fill="#8fc49a"/><rect x="362.7" y="327.6" width="3.95" height="3.95" fill="#8fc49a"/><rect x="374.4" y="327.6" width="3.95" height="3.95" fill="#8fc49a"/><rect x="378.3" y="327.6" width="3.95" height="3.95" fill="#8fc49a"/>
<polygon fill="#0a90c8" points="392,300 406,300 412,335 410,360 400,366 392,360 394,330"/>
<polygon fill="#f8f852" points="373.7,327.8 392.4,327.8 392.4,359 380,359 373.7,345"/>
<polygon fill="#0a90c8" points="373.7,363 386.1,363 386.1,375.5 373.7,375.5"/>
<polygon fill="#f8f852" points="240.8,318 262,317 272,322 272,345 266,359 250,359 240.8,345"/>
<polygon fill="#fa8c28" points="245,321.5 258,321 263.6,330 262,346.5 250,346.5 245,335"/>
<polygon fill="#fa0a0a" points="248,323 254,323 255.3,342.3 249,342.3"/>
<polygon fill="#f8f852" points="228,359 250,359 253.2,375 253.2,396.3 244,396.3 236,382 230,370"/>
<polygon fill="#fa8c28" points="229,363 246,363 249,375 245,381.8 236,381.8 230,372"/>
<polygon fill="#f8f852" points="250,392 262,390 270,400 276,415 266,425.4 256,418 250,405"/>
<polygon fill="#f8f852" points="300,326 315,322 330,328 345,330 360,336 365,352 355,362 340,360 325,352 312,350 300,340"/>
<polygon fill="#8fc49a" points="312,332 326,334 322,344 310,342"/>
<polygon fill="#fa8c28" points="336,336 346,338 344,346 334,344"/>
<polygon fill="#f8f852" points="330,362 350,358 361,364 361,385 350,390 336,390 328,378"/>
<polygon fill="#fa8c28" points="354,370 360,370 360,376 354,376"/>
<polygon fill="#f8f852" points="318,402 335,400 344.6,408 340,420 332,436 320,434 312,422"/>
<polygon fill="#0a90c8" points="327,437 337,436 340,443 332,447 326,444"/>
<polygon fill="#0a90c8" points="284,459 292,459 292,463 284,463"/>
</g>
<g clip-path="url(#mg)"><rect x="420" y="325" width="60" height="100" fill="#f8f852"/>
<polygon fill="#8fc49a" points="430,350 456,342 458,350 450,360 446,366 441,388 436,392 430,388"/>
<polygon fill="#0a90c8" points="430,352 452,342 457,346 448,354 441,358 437,370 435,386 430,384"/>
<polygon fill="#fa8c28" points="445,375 449,374 449,388 445,388"/>
<polygon fill="#fa8c28" points="442,398 445,398 445,401 442,401"/>
<polygon fill="#8fc49a" points="426,388 432,386 431,398 426,397"/>
</g>
<circle cx="426" cy="330.5" r="1.5" fill="#f8f852" stroke="#222" stroke-width="0.5"/>
<circle cx="429.5" cy="334" r="1.5" fill="#f8f852" stroke="#222" stroke-width="0.5"/>
<circle cx="434.5" cy="334.5" r="1.5" fill="#f8f852" stroke="#222" stroke-width="0.5"/>
<circle cx="438.5" cy="337.5" r="1.5" fill="#f8f852" stroke="#222" stroke-width="0.5"/>
<ellipse cx="503.7" cy="389.5" rx="2.2" ry="1.6" fill="#8fc49a" stroke="#333" stroke-width="0.6"/>
<rect x="208.5" y="234" width="3" height="4" fill="#fa8c28" stroke="#333" stroke-width="0.4"/>
<rect x="196" y="255.5" width="2" height="2" fill="#fa8c28"/>
<line x1="445.5" y1="316.5" x2="448" y2="316.5" stroke="#555" stroke-width="0.8"/>
<use href="#afo"/><use href="#mgo"/><use href="#brd"/>
<circle cx="107.9" cy="46.8" r="4.1" fill="#000"/>
<circle cx="351.4" cy="68.7" r="4.1" fill="#000"/>
<circle cx="45.6" cy="164.9" r="4.1" fill="#000"/>
<circle cx="359.3" cy="159.2" r="4.1" fill="#000"/>
<circle cx="398.4" cy="200.9" r="4.1" fill="#000"/>
<circle cx="176.9" cy="216.6" r="4.1" fill="#000"/>
<circle cx="440.3" cy="245.2" r="4.1" fill="#000"/>
<circle cx="386.2" cy="265.1" r="4.1" fill="#000"/>
<circle cx="252.2" cy="284.5" r="4.1" fill="#000"/>
<circle cx="401.9" cy="299.8" r="4.1" fill="#000"/>
<circle cx="238.4" cy="312.9" r="4.1" fill="#000"/>
<circle cx="331.2" cy="422" r="4.1" fill="#000"/>
<text class="ct" x="113.3" y="39.7" textLength="67.9" lengthAdjust="spacing">Casablanca</text>
<text class="ct" x="356.4" y="61.6" textLength="31.2" lengthAdjust="spacing">Cairo</text>
<text class="ct" x="51.4" y="157.8" textLength="34.1" lengthAdjust="spacing">Dakar</text>
<text class="ct" x="365.0" y="152.2" textLength="127.0" lengthAdjust="spacing">Khartoum-Omdurman</text>
<text class="ct" x="403.7" y="193.7" textLength="74.6" lengthAdjust="spacing">Addis Ababa</text>
<text class="ct" x="182.1" y="209.3" textLength="36.2" lengthAdjust="spacing">Lagos</text>
<text class="ct" x="445.4" y="237.9" textLength="64.8" lengthAdjust="spacing">Mogadishu</text>
<text class="ct" x="392.1" y="257.9" textLength="42.2" lengthAdjust="spacing">Nairobi</text>
<text class="ct" x="257.2" y="278.0" textLength="122.6" lengthAdjust="spacing">Kinshasa-Brazzaville</text>
<text class="ct" x="407.5" y="292.7" textLength="83.0" lengthAdjust="spacing">Dar es Salaam</text>
<text class="ct" x="243.8" y="305.7" textLength="43.7" lengthAdjust="spacing">Luanda</text>
<text class="ct" x="337.0" y="414.7" textLength="83.0" lengthAdjust="spacing">Johannesburg</text>
<text class="pl" x="29.6" y="39.6">B</text>
<rect x="17.2" y="255.7" width="142.3" height="246.0" fill="none" stroke="#fafafa" stroke-width="1"/>
<rect x="16.7" y="255.2" width="142.3" height="246.0" fill="none" stroke="#5a5a5a" stroke-width="1"/>
<text class="lt" x="17.6" y="272.8">Projected</text>
<text class="lt" x="17.6" y="293.3">change in Hda2</text>
<text class="lt" x="17.6" y="313.8">2011-2040</text>
<rect x="18.2" y="330.8" width="60.4" height="30.4" fill="#0a90c8" stroke="#6a6a6a" stroke-width="1"/>
<text class="ll" x="89.6" y="352.1">0 - 10</text>
<rect x="18.2" y="365.4" width="60.4" height="30.4" fill="#8fc49a" stroke="#6a6a6a" stroke-width="1"/>
<text class="ll" x="89.6" y="386.7">11 - 30</text>
<rect x="18.2" y="400.0" width="60.4" height="30.4" fill="#f8f852" stroke="#6a6a6a" stroke-width="1"/>
<text class="ll" x="89.6" y="421.3">31 - 50</text>
<rect x="18.2" y="434.6" width="60.4" height="30.4" fill="#fa8c28" stroke="#6a6a6a" stroke-width="1"/>
<text class="ll" x="89.6" y="455.9">51 - 80</text>
<rect x="18.2" y="469.2" width="60.4" height="30.4" fill="#fa0a0a" stroke="#6a6a6a" stroke-width="1"/>
<text class="ll" x="89.6" y="490.5">81 - 296</text>
</g>
<g transform="translate(0,496)">
<g clip-path="url(#af)"><rect x="40" y="15" width="450" height="470" fill="#0a90c8"/>
<polygon fill="#8fc49a" points="30,162 45,162 50.5,161.7 120.9,159.9 180.6,161.7 194.7,170.5 236.9,174 258,168.7 270,167.6 287.8,167.6 295.4,182.9 300.5,188 348.7,188 351.3,182.9 353.8,172.7 361.4,168.9 369,167.6 379.2,160 384.3,154.9 386.8,147.3 390.6,142.2 397,141 400,120 495,120 495,5 30,5"/>
<polygon fill="#f8f852" points="92.7,45.6 110.3,42.1 125.9,43.4 127.9,59.1 122,68.8 125.9,74.7 125.9,92.3 129.8,102 141.6,104 157.2,98.1 165,96.2 180.6,98.1 196.3,102 196.3,109.8 184.5,125.5 176.7,129.4 168.9,137.2 157.2,139.1 141.6,141.1 118.1,145 88.8,143 79,137.2 55.6,135.2 45,135 45,45"/>
<polygon fill="#fa8c28" points="88.8,80.5 81,94.2 71.3,109.8 61.5,121.6 49.8,123.5 45,123 45,110 51.7,113.8 63.4,98.1 75.2,84.5"/>
<polygon fill="#f8f852" points="233.4,59.7 258,56.2 286.1,52.7 314.3,59.7 314.3,66.7 286.1,70.3 279.1,84.3 265,91.4 243.9,89.6 236.9,77.3"/>
<polygon fill="#f8f852" points="311.4,56 332.5,58 332.5,69.2 327.2,77.9 318.4,76.2 311.4,69.2"/>
<polygon fill="#f8f852" points="357.1,60 374,60 376,74.4 371.2,85 364.1,86.7 360.6,74.4"/>
<polygon fill="#f8f852" points="281.4,151.1 289,148.6 303,153.7 318.2,147.3 331,144.8 341.1,137.2 343.6,127 351.3,120.7 356.3,110.5 361.4,104.2 369,101.6 375.4,106.7 381.7,114.3 386.8,123.2 390.6,135.9 390.6,142.2 384.3,144.8 381.7,153.7 376.6,162.6 369,166.4 364,162.6 358.9,152.4 364,147.3 367.8,141 358.9,135.9 348.7,141 348.7,148.6 353.8,155 351.3,160 341.1,170.2 328.4,177.8 318.2,181.6 305.5,184.1 299.2,182.9 295.4,172.7 286.5,161.3"/>
<polygon fill="#f8f852" points="255.2,120 274.5,118 274.5,134 262,134 255,128"/>
<polygon fill="#fa0a0a" points="385,158 395,157 402,165 406,178 410,195 413,210 410,224 404,234 392,236 382,228 376,214 374.5,200 376,186 380,172"/>
<rect x="386.1" y="156.0" width="3.95" height="3.95" fill="#f8f852"/><rect x="393.9" y="159.9" width="3.95" height="3.95" fill="#8fc49a"/><rect x="386.1" y="163.8" width="3.95" height="3.95" fill="#0a90c8"/><rect x="382.2" y="167.7" width="3.95" height="3.95" fill="#fa8c28"/><rect x="386.1" y="167.7" width="3.95" height="3.95" fill="#8fc49a"/><rect x="393.9" y="167.7" width="3.95" height="3.95" fill="#f8f852"/><rect x="397.8" y="167.7" width="3.95" height="3.95" fill="#fa8c28"/><rect x="378.3" y="175.5" width="3.95" height="3.95" fill="#8fc49a"/><rect x="382.2" y="175.5" width="3.95" height="3.95" fill="#8fc49a"/><rect x="386.1" y="175.5" width="3.95" height="3.95" fill="#f8f852"/><rect x="378.3" y="179.4" width="3.95" height="3.95" fill="#0a90c8"/><rect x="386.1" y="179.4" width="3.95" height="3.95" fill="#f8f852"/><rect x="397.8" y="179.4" width="3.95" height="3.95" fill="#0a90c8"/><rect x="378.3" y="183.3" width="3.95" height="3.95" fill="#fa8c28"/><rect x="386.1" y="183.3" width="3.95" height="3.95" fill="#f8f852"/><rect x="401.7" y="183.3" width="3.95" height="3.95" fill="#8fc49a"/><rect x="378.3" y="187.2" width="3.95" height="3.95" fill="#f8f852"/><rect x="382.2" y="187.2" width="3.95" height="3.95" fill="#fa8c28"/><rect x="393.9" y="187.2" width="3.95" height="3.95" fill="#f8f852"/><rect x="386.1" y="191.1" width="3.95" height="3.95" fill="#f8f852"/><rect x="390.0" y="191.1" width="3.95" height="3.95" fill="#f8f852"/><rect x="393.9" y="191.1" width="3.95" height="3.95" fill="#8fc49a"/><rect x="397.8" y="191.1" width="3.95" height="3.95" fill="#f8f852"/><rect x="405.6" y="191.1" width="3.95" height="3.95" fill="#f8f852"/><rect x="401.7" y="195.0" width="3.95" height="3.95" fill="#fa8c28"/><rect x="382.2" y="198.9" width="3.95" height="3.95" fill="#fa8c28"/><rect x="397.8" y="198.9" width="3.95" height="3.95" fill="#f8f852"/><rect x="405.6" y="198.9" width="3.95" height="3.95" fill="#fa8c28"/><rect x="378.3" y="202.8" width="3.95" height="3.95" fill="#f8f852"/><rect x="386.1" y="202.8" width="3.95" height="3.95" fill="#f8f852"/><rect x="401.7" y="202.8" width="3.95" height="3.95" fill="#f8f852"/><rect x="405.6" y="202.8" width="3.95" height="3.95" fill="#f8f852"/><rect x="409.5" y="202.8" width="3.95" height="3.95" fill="#0a90c8"/><rect x="374.4" y="206.7" width="3.95" height="3.95" fill="#f8f852"/><rect x="386.1" y="206.7" width="3.95" height="3.95" fill="#fa8c28"/><rect x="374.4" y="210.6" width="3.95" height="3.95" fill="#f8f852"/><rect x="386.1" y="210.6" width="3.95" height="3.95" fill="#f8f852"/><rect x="390.0" y="210.6" width="3.95" height="3.95" fill="#f8f852"/><rect x="393.9" y="210.6" width="3.95" height="3.95" fill="#fa8c28"/><rect x="405.6" y="210.6" width="3.95" height="3.95" fill="#fa8c28"/><rect x="378.3" y="214.5" width="3.95" height="3.95" fill="#fa8c28"/><rect x="390.0" y="214.5" width="3.95" height="3.95" fill="#fa8c28"/><rect x="409.5" y="214.5" width="3.95" height="3.95" fill="#f8f852"/><rect x="378.3" y="218.4" width="3.95" height="3.95" fill="#f8f852"/><rect x="401.7" y="218.4" width="3.95" height="3.95" fill="#0a90c8"/><rect x="401.7" y="222.3" width="3.95" height="3.95" fill="#f8f852"/><rect x="382.2" y="226.2" width="3.95" height="3.95" fill="#f8f852"/><rect x="393.9" y="226.2" width="3.95" height="3.95" fill="#fa8c28"/><rect x="386.1" y="230.1" width="3.95" height="3.95" fill="#0a90c8"/><rect x="397.8" y="230.1" width="3.95" height="3.95" fill="#fa8c28"/>
<polygon fill="#fa8c28" points="412,192 440,192 470,186 478,184 472,200 455,206 440,212 425,214 414,212"/>
<polygon fill="#fa0a0a" points="414,194 432,193 434,202 418,204"/>
<rect x="456.3" y="187.2" width="3.95" height="3.95" fill="#fa0a0a"/><rect x="464.1" y="187.2" width="3.95" height="3.95" fill="#fa0a0a"/><rect x="468.0" y="187.2" width="3.95" height="3.95" fill="#0a90c8"/><rect x="413.4" y="191.1" width="3.95" height="3.95" fill="#f8f852"/><rect x="417.3" y="191.1" width="3.95" height="3.95" fill="#f8f852"/><rect x="421.2" y="191.1" width="3.95" height="3.95" fill="#8fc49a"/><rect x="425.1" y="191.1" width="3.95" height="3.95" fill="#f8f852"/><rect x="432.9" y="191.1" width="3.95" height="3.95" fill="#fa0a0a"/><rect x="440.7" y="191.1" width="3.95" height="3.95" fill="#fa0a0a"/><rect x="444.6" y="191.1" width="3.95" height="3.95" fill="#0a90c8"/><rect x="448.5" y="191.1" width="3.95" height="3.95" fill="#fa0a0a"/><rect x="456.3" y="191.1" width="3.95" height="3.95" fill="#f8f852"/><rect x="460.2" y="191.1" width="3.95" height="3.95" fill="#8fc49a"/><rect x="464.1" y="191.1" width="3.95" height="3.95" fill="#fa0a0a"/><rect x="468.0" y="191.1" width="3.95" height="3.95" fill="#8fc49a"/><rect x="417.3" y="195.0" width="3.95" height="3.95" fill="#fa0a0a"/><rect x="421.2" y="195.0" width="3.95" height="3.95" fill="#fa0a0a"/><rect x="436.8" y="195.0" width="3.95" height="3.95" fill="#0a90c8"/><rect x="440.7" y="195.0" width="3.95" height="3.95" fill="#f8f852"/><rect x="444.6" y="195.0" width="3.95" height="3.95" fill="#0a90c8"/><rect x="448.5" y="195.0" width="3.95" height="3.95" fill="#f8f852"/><rect x="452.4" y="195.0" width="3.95" height="3.95" fill="#0a90c8"/><rect x="456.3" y="195.0" width="3.95" height="3.95" fill="#8fc49a"/><rect x="460.2" y="195.0" width="3.95" height="3.95" fill="#f8f852"/><rect x="464.1" y="195.0" width="3.95" height="3.95" fill="#f8f852"/><rect x="468.0" y="195.0" width="3.95" height="3.95" fill="#f8f852"/><rect x="417.3" y="198.9" width="3.95" height="3.95" fill="#8fc49a"/><rect x="421.2" y="198.9" width="3.95" height="3.95" fill="#f8f852"/><rect x="425.1" y="198.9" width="3.95" height="3.95" fill="#f8f852"/><rect x="429.0" y="198.9" width="3.95" height="3.95" fill="#8fc49a"/><rect x="432.9" y="198.9" width="3.95" height="3.95" fill="#f8f852"/><rect x="452.4" y="198.9" width="3.95" height="3.95" fill="#0a90c8"/><rect x="456.3" y="198.9" width="3.95" height="3.95" fill="#f8f852"/><rect x="460.2" y="198.9" width="3.95" height="3.95" fill="#0a90c8"/><rect x="464.1" y="198.9" width="3.95" height="3.95" fill="#8fc49a"/><rect x="417.3" y="202.8" width="3.95" height="3.95" fill="#fa0a0a"/><rect x="425.1" y="202.8" width="3.95" height="3.95" fill="#fa0a0a"/><rect x="432.9" y="202.8" width="3.95" height="3.95" fill="#8fc49a"/><rect x="436.8" y="202.8" width="3.95" height="3.95" fill="#0a90c8"/><rect x="444.6" y="202.8" width="3.95" height="3.95" fill="#8fc49a"/><rect x="448.5" y="202.8" width="3.95" height="3.95" fill="#f8f852"/><rect x="452.4" y="202.8" width="3.95" height="3.95" fill="#f8f852"/><rect x="456.3" y="202.8" width="3.95" height="3.95" fill="#0a90c8"/><rect x="413.4" y="206.7" width="3.95" height="3.95" fill="#8fc49a"/><rect x="417.3" y="206.7" width="3.95" height="3.95" fill="#8fc49a"/><rect x="421.2" y="206.7" width="3.95" height="3.95" fill="#f8f852"/><rect x="425.1" y="206.7" width="3.95" height="3.95" fill="#8fc49a"/><rect x="429.0" y="206.7" width="3.95" height="3.95" fill="#fa0a0a"/><rect x="436.8" y="206.7" width="3.95" height="3.95" fill="#fa0a0a"/><rect x="440.7" y="206.7" width="3.95" height="3.95" fill="#0a90c8"/><rect x="444.6" y="206.7" width="3.95" height="3.95" fill="#0a90c8"/><rect x="417.3" y="210.6" width="3.95" height="3.95" fill="#8fc49a"/><rect x="421.2" y="210.6" width="3.95" height="3.95" fill="#f8f852"/><rect x="425.1" y="210.6" width="3.95" height="3.95" fill="#0a90c8"/><rect x="429.0" y="210.6" width="3.95" height="3.95" fill="#8fc49a"/><rect x="432.9" y="210.6" width="3.95" height="3.95" fill="#8fc49a"/>
<polygon fill="#fa0a0a" points="371,246 385,243 393,250 395,268 388,276 376,274 370,262"/>
<rect x="382.2" y="241.8" width="3.95" height="3.95" fill="#fa8c28"/><rect x="370.5" y="245.7" width="3.95" height="3.95" fill="#fa8c28"/><rect x="378.3" y="245.7" width="3.95" height="3.95" fill="#0a90c8"/><rect x="382.2" y="249.6" width="3.95" height="3.95" fill="#fa8c28"/><rect x="386.1" y="249.6" width="3.95" height="3.95" fill="#fa8c28"/><rect x="374.4" y="253.5" width="3.95" height="3.95" fill="#fa8c28"/><rect x="386.1" y="253.5" width="3.95" height="3.95" fill="#0a90c8"/><rect x="370.5" y="257.4" width="3.95" height="3.95" fill="#fa8c28"/><rect x="386.1" y="261.3" width="3.95" height="3.95" fill="#f8f852"/><rect x="390.0" y="261.3" width="3.95" height="3.95" fill="#fa8c28"/><rect x="386.1" y="269.1" width="3.95" height="3.95" fill="#f8f852"/><rect x="382.2" y="273.0" width="3.95" height="3.95" fill="#f8f852"/>
<polygon fill="#fa0a0a" points="334,254 348,252 356,262 354,278 342,282 333,270"/>
<rect x="343.2" y="253.5" width="3.95" height="3.95" fill="#fa8c28"/><rect x="335.4" y="257.4" width="3.95" height="3.95" fill="#f8f852"/><rect x="351.0" y="257.4" width="3.95" height="3.95" fill="#fa8c28"/><rect x="331.5" y="261.3" width="3.95" height="3.95" fill="#8fc49a"/><rect x="335.4" y="261.3" width="3.95" height="3.95" fill="#0a90c8"/><rect x="339.3" y="261.3" width="3.95" height="3.95" fill="#fa8c28"/><rect x="343.2" y="261.3" width="3.95" height="3.95" fill="#fa8c28"/><rect x="331.5" y="265.2" width="3.95" height="3.95" fill="#fa8c28"/><rect x="335.4" y="265.2" width="3.95" height="3.95" fill="#fa8c28"/><rect x="339.3" y="265.2" width="3.95" height="3.95" fill="#fa8c28"/><rect x="335.4" y="269.1" width="3.95" height="3.95" fill="#f8f852"/><rect x="339.3" y="269.1" width="3.95" height="3.95" fill="#8fc49a"/><rect x="339.3" y="273.0" width="3.95" height="3.95" fill="#f8f852"/><rect x="347.1" y="273.0" width="3.95" height="3.95" fill="#8fc49a"/><rect x="339.3" y="276.9" width="3.95" height="3.95" fill="#fa8c28"/>
<polygon fill="#f8f852" points="30,330 220,330 240.8,321.5 247,317.4 261.5,315.3 282.3,317.4 292.7,319.5 303,320.5 313.5,319.5 323.8,313.2 332.1,305 336.3,296.6 338.4,288.3 350,300 365,318 380,330 395,335 420,335 495,335 495,495 30,495"/>
<polygon fill="#fa8c28" points="338,274 360,270 380,274 396,284 398,310 392,326 378,332 360,330 342,322 336,300"/>
<polygon fill="#fa0a0a" points="350,282 370,278 390,282 395,300 388,318 372,322 356,316 348,298"/>
<rect x="354.9" y="269.1" width="3.95" height="3.95" fill="#fa8c28"/><rect x="358.8" y="269.1" width="3.95" height="3.95" fill="#fa0a0a"/><rect x="362.7" y="269.1" width="3.95" height="3.95" fill="#f8f852"/><rect x="339.3" y="273.0" width="3.95" height="3.95" fill="#f8f852"/><rect x="351.0" y="273.0" width="3.95" height="3.95" fill="#f8f852"/><rect x="378.3" y="273.0" width="3.95" height="3.95" fill="#8fc49a"/><rect x="339.3" y="276.9" width="3.95" height="3.95" fill="#fa8c28"/><rect x="343.2" y="276.9" width="3.95" height="3.95" fill="#fa0a0a"/><rect x="358.8" y="276.9" width="3.95" height="3.95" fill="#fa0a0a"/><rect x="362.7" y="276.9" width="3.95" height="3.95" fill="#fa8c28"/><rect x="366.6" y="276.9" width="3.95" height="3.95" fill="#fa0a0a"/><rect x="370.5" y="276.9" width="3.95" height="3.95" fill="#f8f852"/><rect x="374.4" y="276.9" width="3.95" height="3.95" fill="#0a90c8"/><rect x="378.3" y="276.9" width="3.95" height="3.95" fill="#8fc49a"/><rect x="382.2" y="276.9" width="3.95" height="3.95" fill="#f8f852"/><rect x="339.3" y="280.8" width="3.95" height="3.95" fill="#f8f852"/><rect x="347.1" y="280.8" width="3.95" height="3.95" fill="#fa0a0a"/><rect x="354.9" y="280.8" width="3.95" height="3.95" fill="#8fc49a"/><rect x="358.8" y="280.8" width="3.95" height="3.95" fill="#8fc49a"/><rect x="366.6" y="280.8" width="3.95" height="3.95" fill="#f8f852"/><rect x="374.4" y="280.8" width="3.95" height="3.95" fill="#0a90c8"/><rect x="386.1" y="280.8" width="3.95" height="3.95" fill="#0a90c8"/><rect x="390.0" y="280.8" width="3.95" height="3.95" fill="#f8f852"/><rect x="335.4" y="284.7" width="3.95" height="3.95" fill="#8fc49a"/><rect x="343.2" y="284.7" width="3.95" height="3.95" fill="#f8f852"/><rect x="366.6" y="284.7" width="3.95" height="3.95" fill="#fa0a0a"/><rect x="370.5" y="284.7" width="3.95" height="3.95" fill="#f8f852"/><rect x="374.4" y="284.7" width="3.95" height="3.95" fill="#fa0a0a"/><rect x="382.2" y="284.7" width="3.95" height="3.95" fill="#f8f852"/><rect x="390.0" y="284.7" width="3.95" height="3.95" fill="#0a90c8"/><rect x="339.3" y="288.6" width="3.95" height="3.95" fill="#fa0a0a"/><rect x="347.1" y="288.6" width="3.95" height="3.95" fill="#fa0a0a"/><rect x="351.0" y="288.6" width="3.95" height="3.95" fill="#f8f852"/><rect x="354.9" y="288.6" width="3.95" height="3.95" fill="#8fc49a"/><rect x="362.7" y="288.6" width="3.95" height="3.95" fill="#0a90c8"/><rect x="366.6" y="288.6" width="3.95" height="3.95" fill="#f8f852"/><rect x="374.4" y="288.6" width="3.95" height="3.95" fill="#f8f852"/><rect x="378.3" y="288.6" width="3.95" height="3.95" fill="#8fc49a"/><rect x="386.1" y="288.6" width="3.95" height="3.95" fill="#8fc49a"/><rect x="393.9" y="288.6" width="3.95" height="3.95" fill="#fa0a0a"/><rect x="335.4" y="292.5" width="3.95" height="3.95" fill="#8fc49a"/><rect x="347.1" y="292.5" width="3.95" height="3.95" fill="#fa8c28"/><rect x="354.9" y="292.5" width="3.95" height="3.95" fill="#fa0a0a"/><rect x="358.8" y="292.5" width="3.95" height="3.95" fill="#f8f852"/><rect x="366.6" y="292.5" width="3.95" height="3.95" fill="#8fc49a"/><rect x="370.5" y="292.5" width="3.95" height="3.95" fill="#f8f852"/><rect x="374.4" y="292.5" width="3.95" height="3.95" fill="#fa0a0a"/><rect x="378.3" y="292.5" width="3.95" height="3.95" fill="#8fc49a"/><rect x="382.2" y="292.5" width="3.95" height="3.95" fill="#8fc49a"/><rect x="390.0" y="292.5" width="3.95" height="3.95" fill="#fa8c28"/><rect x="393.9" y="292.5" width="3.95" height="3.95" fill="#fa0a0a"/><rect x="335.4" y="296.4" width="3.95" height="3.95" fill="#f8f852"/><rect x="339.3" y="296.4" width="3.95" height="3.95" fill="#fa8c28"/><rect x="343.2" y="296.4" width="3.95" height="3.95" fill="#f8f852"/><rect x="366.6" y="296.4" width="3.95" height="3.95" fill="#fa0a0a"/><rect x="370.5" y="296.4" width="3.95" height="3.95" fill="#fa0a0a"/><rect x="378.3" y="296.4" width="3.95" height="3.95" fill="#f8f852"/><rect x="393.9" y="296.4" width="3.95" height="3.95" fill="#f8f852"/><rect x="335.4" y="300.3" width="3.95" height="3.95" fill="#fa0a0a"/><rect x="343.2" y="300.3" width="3.95" height="3.95" fill="#fa0a0a"/><rect x="354.9" y="300.3" width="3.95" height="3.95" fill="#fa0a0a"/><rect x="362.7" y="300.3" width="3.95" height="3.95" fill="#8fc49a"/><rect x="374.4" y="300.3" width="3.95" height="3.95" fill="#fa0a0a"/><rect x="386.1" y="300.3" width="3.95" height="3.95" fill="#fa8c28"/><rect x="339.3" y="304.2" width="3.95" height="3.95" fill="#f8f852"/><rect x="343.2" y="304.2" width="3.95" height="3.95" fill="#8fc49a"/><rect x="347.1" y="304.2" width="3.95" height="3.95" fill="#8fc49a"/><rect x="362.7" y="304.2" width="3.95" height="3.95" fill="#f8f852"/><rect x="370.5" y="304.2" width="3.95" height="3.95" fill="#fa0a0a"/><rect x="378.3" y="304.2" width="3.95" height="3.95" fill="#f8f852"/><rect x="382.2" y="304.2" width="3.95" height="3.95" fill="#fa0a0a"/><rect x="390.0" y="304.2" width="3.95" height="3.95" fill="#fa0a0a"/><rect x="339.3" y="308.1" width="3.95" height="3.95" fill="#f8f852"/><rect x="343.2" y="308.1" width="3.95" height="3.95" fill="#f8f852"/><rect x="358.8" y="308.1" width="3.95" height="3.95" fill="#8fc49a"/><rect x="366.6" y="308.1" width="3.95" height="3.95" fill="#f8f852"/><rect x="378.3" y="308.1" width="3.95" height="3.95" fill="#f8f852"/><rect x="339.3" y="312.0" width="3.95" height="3.95" fill="#fa8c28"/><rect x="358.8" y="312.0" width="3.95" height="3.95" fill="#0a90c8"/><rect x="378.3" y="312.0" width="3.95" height="3.95" fill="#fa0a0a"/><rect x="386.1" y="312.0" width="3.95" height="3.95" fill="#fa0a0a"/><rect x="393.9" y="312.0" width="3.95" height="3.95" fill="#8fc49a"/><rect x="351.0" y="315.9" width="3.95" height="3.95" fill="#fa0a0a"/><rect x="362.7" y="315.9" width="3.95" height="3.95" fill="#0a90c8"/><rect x="374.4" y="315.9" width="3.95" height="3.95" fill="#8fc49a"/><rect x="382.2" y="315.9" width="3.95" height="3.95" fill="#fa0a0a"/><rect x="386.1" y="315.9" width="3.95" height="3.95" fill="#fa0a0a"/><rect x="390.0" y="315.9" width="3.95" height="3.95" fill="#fa0a0a"/><rect x="343.2" y="319.8" width="3.95" height="3.95" fill="#fa8c28"/><rect x="351.0" y="319.8" width="3.95" height="3.95" fill="#8fc49a"/><rect x="354.9" y="319.8" width="3.95" height="3.95" fill="#fa8c28"/><rect x="366.6" y="319.8" width="3.95" height="3.95" fill="#0a90c8"/><rect x="370.5" y="319.8" width="3.95" height="3.95" fill="#8fc49a"/><rect x="382.2" y="319.8" width="3.95" height="3.95" fill="#8fc49a"/><rect x="351.0" y="323.7" width="3.95" height="3.95" fill="#fa0a0a"/><rect x="354.9" y="323.7" width="3.95" height="3.95" fill="#fa0a0a"/><rect x="362.7" y="323.7" width="3.95" height="3.95" fill="#fa8c28"/><rect x="366.6" y="323.7" width="3.95" height="3.95" fill="#f8f852"/><rect x="370.5" y="323.7" width="3.95" height="3.95" fill="#fa0a0a"/><rect x="378.3" y="323.7" width="3.95" height="3.95" fill="#f8f852"/><rect x="386.1" y="323.7" width="3.95" height="3.95" fill="#0a90c8"/><rect x="358.8" y="327.6" width="3.95" height="3.95" fill="#fa0a0a"/>
<polygon fill="#0a90c8" points="392,300 406,300 412,335 410,360 396,372 388,368 394,330"/>
<polygon fill="#8fc49a" points="366,330 392,330 392,360 380,378 372,372 366,350"/>
<rect x="366.6" y="331.5" width="3.95" height="3.95" fill="#fa8c28"/><rect x="370.5" y="331.5" width="3.95" height="3.95" fill="#f8f852"/><rect x="374.4" y="331.5" width="3.95" height="3.95" fill="#fa8c28"/><rect x="378.3" y="331.5" width="3.95" height="3.95" fill="#fa8c28"/><rect x="382.2" y="331.5" width="3.95" height="3.95" fill="#fa8c28"/><rect x="386.1" y="331.5" width="3.95" height="3.95" fill="#0a90c8"/><rect x="390.0" y="331.5" width="3.95" height="3.95" fill="#fa0a0a"/><rect x="366.6" y="335.4" width="3.95" height="3.95" fill="#0a90c8"/><rect x="370.5" y="335.4" width="3.95" height="3.95" fill="#0a90c8"/><rect x="374.4" y="335.4" width="3.95" height="3.95" fill="#f8f852"/><rect x="378.3" y="335.4" width="3.95" height="3.95" fill="#8fc49a"/><rect x="382.2" y="335.4" width="3.95" height="3.95" fill="#f8f852"/><rect x="386.1" y="335.4" width="3.95" height="3.95" fill="#0a90c8"/><rect x="390.0" y="335.4" width="3.95" height="3.95" fill="#fa8c28"/><rect x="366.6" y="339.3" width="3.95" height="3.95" fill="#fa8c28"/><rect x="370.5" y="339.3" width="3.95" height="3.95" fill="#f8f852"/><rect x="374.4" y="339.3" width="3.95" height="3.95" fill="#0a90c8"/><rect x="378.3" y="339.3" width="3.95" height="3.95" fill="#8fc49a"/><rect x="382.2" y="339.3" width="3.95" height="3.95" fill="#fa8c28"/><rect x="386.1" y="339.3" width="3.95" height="3.95" fill="#f8f852"/><rect x="390.0" y="339.3" width="3.95" height="3.95" fill="#fa0a0a"/><rect x="366.6" y="343.2" width="3.95" height="3.95" fill="#0a90c8"/><rect x="370.5" y="343.2" width="3.95" height="3.95" fill="#f8f852"/><rect x="374.4" y="343.2" width="3.95" height="3.95" fill="#f8f852"/><rect x="378.3" y="343.2" width="3.95" height="3.95" fill="#f8f852"/><rect x="382.2" y="343.2" width="3.95" height="3.95" fill="#f8f852"/><rect x="386.1" y="343.2" width="3.95" height="3.95" fill="#0a90c8"/><rect x="390.0" y="343.2" width="3.95" height="3.95" fill="#fa0a0a"/><rect x="366.6" y="347.1" width="3.95" height="3.95" fill="#fa8c28"/><rect x="370.5" y="347.1" width="3.95" height="3.95" fill="#f8f852"/><rect x="374.4" y="347.1" width="3.95" height="3.95" fill="#fa8c28"/><rect x="378.3" y="347.1" width="3.95" height="3.95" fill="#fa8c28"/><rect x="382.2" y="347.1" width="3.95" height="3.95" fill="#f8f852"/><rect x="386.1" y="347.1" width="3.95" height="3.95" fill="#fa0a0a"/><rect x="390.0" y="347.1" width="3.95" height="3.95" fill="#8fc49a"/><rect x="366.6" y="351.0" width="3.95" height="3.95" fill="#f8f852"/><rect x="370.5" y="351.0" width="3.95" height="3.95" fill="#8fc49a"/><rect x="374.4" y="351.0" width="3.95" height="3.95" fill="#8fc49a"/><rect x="378.3" y="351.0" width="3.95" height="3.95" fill="#f8f852"/><rect x="382.2" y="351.0" width="3.95" height="3.95" fill="#f8f852"/><rect x="386.1" y="351.0" width="3.95" height="3.95" fill="#0a90c8"/><rect x="390.0" y="351.0" width="3.95" height="3.95" fill="#fa8c28"/><rect x="366.6" y="354.9" width="3.95" height="3.95" fill="#f8f852"/><rect x="370.5" y="354.9" width="3.95" height="3.95" fill="#8fc49a"/><rect x="374.4" y="354.9" width="3.95" height="3.95" fill="#fa8c28"/><rect x="378.3" y="354.9" width="3.95" height="3.95" fill="#fa8c28"/><rect x="382.2" y="354.9" width="3.95" height="3.95" fill="#8fc49a"/><rect x="386.1" y="354.9" width="3.95" height="3.95" fill="#fa8c28"/><rect x="390.0" y="354.9" width="3.95" height="3.95" fill="#f8f852"/><rect x="370.5" y="358.8" width="3.95" height="3.95" fill="#8fc49a"/><rect x="374.4" y="358.8" width="3.95" height="3.95" fill="#8fc49a"/><rect x="378.3" y="358.8" width="3.95" height="3.95" fill="#0a90c8"/><rect x="382.2" y="358.8" width="3.95" height="3.95" fill="#fa8c28"/><rect x="386.1" y="358.8" width="3.95" height="3.95" fill="#8fc49a"/><rect x="370.5" y="362.7" width="3.95" height="3.95" fill="#8fc49a"/><rect x="374.4" y="362.7" width="3.95" height="3.95" fill="#f8f852"/><rect x="378.3" y="362.7" width="3.95" height="3.95" fill="#fa8c28"/><rect x="382.2" y="362.7" width="3.95" height="3.95" fill="#0a90c8"/><rect x="386.1" y="362.7" width="3.95" height="3.95" fill="#f8f852"/><rect x="370.5" y="366.6" width="3.95" height="3.95" fill="#f8f852"/><rect x="374.4" y="366.6" width="3.95" height="3.95" fill="#f8f852"/><rect x="378.3" y="366.6" width="3.95" height="3.95" fill="#f8f852"/><rect x="382.2" y="366.6" width="3.95" height="3.95" fill="#0a90c8"/><rect x="374.4" y="370.5" width="3.95" height="3.95" fill="#0a90c8"/><rect x="378.3" y="370.5" width="3.95" height="3.95" fill="#8fc49a"/><rect x="378.3" y="374.4" width="3.95" height="3.95" fill="#f8f852"/>
<polygon fill="#fa8c28" points="240.8,318 262,317 290,322 292,345 288,367 270,367 250,367 232,360 236,340"/>
<polygon fill="#fa0a0a" points="247,321.5 262,321.5 265.7,335 262,348.5 250,348.5 247,335"/>
<polygon fill="#8fc49a" points="274,327.8 290,327.8 292.7,345 288,354.8 276,354.8 274,340"/>
<polygon fill="#f8f852" points="262,352 280,352 285,366 262,366"/>
<polygon fill="#fa8c28" points="245,367 265,368 275,380 278,400 276,425.4 262,428 252,420 246,400 240,385"/>
<polygon fill="#fa0a0a" points="229,359 249,359 249,375 245,390 238,388 232,375"/>
<polygon fill="#f8f852" points="255,395 262,392 265,410 258,412"/>
<polygon fill="#fa8c28" points="296.8,317.4 320,318 340,322 360,330 365.4,345 362,367.2 340,367.2 320,367.2 300,367.2 296.8,345"/>
<polygon fill="#f8f852" points="294.8,332 312,330 319.7,345 316,367 300,367 294.8,350"/>
<polygon fill="#fa0a0a" points="330,325 345,328 346,336 332,334"/>
<polygon fill="#fa8c28" points="321.8,366 340,357 363.3,360 363.3,385 350,394.2 330,394.2 322,380"/>
<polygon fill="#fa0a0a" points="340,364 355,362 361,372 352,382 344,378"/>
<polygon fill="#fa8c28" points="312,400 335,398.4 352,402 357,415 355,430 345,442 330,448.2 316,446 309.3,430 312,415"/>
<polygon fill="#0a90c8" points="327,437 337,436 340,443 332,447 326,444"/>
<polygon fill="#f8f852" points="330,405 340,405 340,412 330,412"/>
<polygon fill="#8fc49a" points="270,452 290,448 315,452 320,458 305,466 285,470 272,466"/>
<polygon fill="#f8f852" points="282,456 300,455 300,462 284,463"/>
</g>
<g clip-path="url(#mg)"><rect x="420" y="325" width="60" height="100" fill="#fa8c28"/>
<polygon fill="#8fc49a" points="430,350 456,342 458,350 452,360 445,368 440,385 436,388 430,380"/>
<polygon fill="#0a90c8" points="430,350 454,342 455,347 446,354 440,360 436,378 433,385 430,378"/>
<polygon fill="#fa0a0a" points="444.4,371 451,370.5 457.4,376 455,386 450,391.8 445,390"/>
<polygon fill="#fa0a0a" points="438.5,396 444,395.4 450.3,405 448,410.8 441,408"/>
<polygon fill="#fa0a0a" points="459.8,342 465.8,342 465.8,350.3 459.8,350.3"/>
<polygon fill="#f8f852" points="426,390 434,388 433,398 427,398"/>
</g>
<circle cx="426" cy="330.5" r="1.5" fill="#fa0a0a" stroke="#222" stroke-width="0.5"/>
<circle cx="429.5" cy="334" r="1.5" fill="#fa0a0a" stroke="#222" stroke-width="0.5"/>
<circle cx="434.5" cy="334.5" r="1.5" fill="#fa0a0a" stroke="#222" stroke-width="0.5"/>
<circle cx="438.5" cy="337.5" r="1.5" fill="#fa0a0a" stroke="#222" stroke-width="0.5"/>
<ellipse cx="503.7" cy="389.5" rx="2.2" ry="1.6" fill="#8fc49a" stroke="#333" stroke-width="0.6"/>
<rect x="208.5" y="234" width="3" height="4" fill="#fa0a0a" stroke="#333" stroke-width="0.4"/>
<rect x="196" y="255.5" width="2" height="2" fill="#fa0a0a"/>
<line x1="445.5" y1="316.5" x2="448" y2="316.5" stroke="#555" stroke-width="0.8"/>
<use href="#afo"/><use href="#mgo"/><use href="#brd"/>
<circle cx="107.9" cy="46.8" r="4.1" fill="#000"/>
<circle cx="351.4" cy="68.7" r="4.1" fill="#000"/>
<circle cx="45.6" cy="164.9" r="4.1" fill="#000"/>
<circle cx="359.3" cy="159.2" r="4.1" fill="#000"/>
<circle cx="398.4" cy="200.9" r="4.1" fill="#000"/>
<circle cx="176.9" cy="216.6" r="4.1" fill="#000"/>
<circle cx="440.3" cy="245.2" r="4.1" fill="#000"/>
<circle cx="386.2" cy="265.1" r="4.1" fill="#000"/>
<circle cx="252.2" cy="284.5" r="4.1" fill="#000"/>
<circle cx="401.9" cy="299.8" r="4.1" fill="#000"/>
<circle cx="238.4" cy="312.9" r="4.1" fill="#000"/>
<circle cx="331.2" cy="422" r="4.1" fill="#000"/>
<text class="ct" x="113.3" y="39.7" textLength="67.9" lengthAdjust="spacing">Casablanca</text>
<text class="ct" x="356.4" y="61.6" textLength="31.2" lengthAdjust="spacing">Cairo</text>
<text class="ct" x="51.4" y="157.8" textLength="34.1" lengthAdjust="spacing">Dakar</text>
<text class="ct" x="365.0" y="152.2" textLength="127.0" lengthAdjust="spacing">Khartoum-Omdurman</text>
<text class="ct" x="403.7" y="193.7" textLength="74.6" lengthAdjust="spacing">Addis Ababa</text>
<text class="ct" x="182.1" y="209.3" textLength="36.2" lengthAdjust="spacing">Lagos</text>
<text class="ct" x="445.4" y="237.9" textLength="64.8" lengthAdjust="spacing">Mogadishu</text>
<text class="ct" x="392.1" y="257.9" textLength="42.2" lengthAdjust="spacing">Nairobi</text>
<text class="ct" x="257.2" y="278.0" textLength="122.6" lengthAdjust="spacing">Kinshasa-Brazzaville</text>
<text class="ct" x="407.5" y="292.7" textLength="83.0" lengthAdjust="spacing">Dar es Salaam</text>
<text class="ct" x="243.8" y="305.7" textLength="43.7" lengthAdjust="spacing">Luanda</text>
<text class="ct" x="337.0" y="414.7" textLength="83.0" lengthAdjust="spacing">Johannesburg</text>
<text class="pl" x="24.9" y="47.2">C</text>
<rect x="16.9" y="256.1" width="142.7" height="245.5" fill="none" stroke="#fafafa" stroke-width="1"/>
<rect x="16.4" y="255.6" width="142.7" height="245.5" fill="none" stroke="#5a5a5a" stroke-width="1"/>
<text class="lt" x="17.6" y="272.8">Projected</text>
<text class="lt" x="17.6" y="293.3">change in Hda2</text>
<text class="lt" x="17.6" y="313.8">2041-2070</text>
<rect x="18.2" y="332.2" width="60.4" height="30.4" fill="#0a90c8" stroke="#6a6a6a" stroke-width="1"/>
<text class="ll" x="89.6" y="353.5">0 - 10</text>
<rect x="18.2" y="366.8" width="60.4" height="30.4" fill="#8fc49a" stroke="#6a6a6a" stroke-width="1"/>
<text class="ll" x="89.6" y="388.1">11 - 30</text>
<rect x="18.2" y="401.4" width="60.4" height="30.4" fill="#f8f852" stroke="#6a6a6a" stroke-width="1"/>
<text class="ll" x="89.6" y="422.7">31 - 50</text>
<rect x="18.2" y="436.0" width="60.4" height="30.4" fill="#fa8c28" stroke="#6a6a6a" stroke-width="1"/>
<text class="ll" x="89.6" y="457.3">51 - 80</text>
<rect x="18.2" y="470.6" width="60.4" height="30.4" fill="#fa0a0a" stroke="#6a6a6a" stroke-width="1"/>
<text class="ll" x="89.6" y="491.9">81 - 296</text>
</g>
<g transform="translate(500,496)">
<g clip-path="url(#af)"><rect x="40" y="15" width="450" height="470" fill="#0a90c8"/>
<polygon fill="#8fc49a" points="30,159 45,159 51.7,158.8 79.1,158.8 98.6,160.7 122,160.7 137.7,160.7 157.2,162.7 176.7,164.6 188.4,172.4 215.8,176.3 240,178.3 258,170 270,167.6 287.8,167.6 295.4,182.9 300.5,188 348.7,188 351.3,182.9 353.8,172.7 361.4,168.9 369,167.6 379.2,160 384.3,154.9 386.8,147.3 390.6,142.2 397,141 400,120 495,120 495,5 30,5"/>
<polygon fill="#f8f852" points="30,141 45,141 51.7,141.2 59.5,143.1 79.1,149 98.6,151 122,149 141.6,147 161.1,149 180.6,151 188.4,156.8 215.8,166.6 240,168.5 251,168.7 270,164 286.1,165.2 293.2,175.7 300.2,182.8 349.4,182.8 363.5,172.2 377.6,161.7 384,156 388,150 395,130 495,130 495,5 30,5"/>
<polygon fill="#fa8c28" points="98.6,51.3 108.4,43.5 114.2,40.6 129.8,40.6 129.8,55.3 125.9,59.2 131.8,65 133.8,70.9 133.8,86.5 149.4,88.5 184.5,90.4 192.3,98.2 198.2,106 198.2,121.7 192.3,133.4 184.5,137.3 176.7,137.3 165,139.2 149.4,139.2 141.6,135.3 124,141.2 114.2,141.2 98.6,141.2 79.1,141.2 63.4,135.3 55.6,125.6 51.7,121.7 45,121 45,100 63.4,96.3 71.3,82.6 79.1,78.7 92.7,72.8 94.7,63.1 96.6,55.3"/>
<polygon fill="#fa0a0a" points="98.6,55.3 98.6,80.6 90.8,86.5 84.9,94.3 79.1,102.1 75.2,109.9 69.3,115.8 59.5,119.7 50.7,123.6 45,123 45,110 51.7,115.8 55.6,108 61.5,98.2 69.3,86.5 79.1,78.7 90.8,72.8 94.7,63.1"/>
<polygon fill="#fa8c28" points="218,24 226,24 226,30 218,30"/>
<polygon fill="#fa8c28" points="220,42 228,42 228,48 220,48"/>
<polygon fill="#fa8c28" points="244,52.7 286.1,52.7 286.1,66.7 279.1,84.3 265,87.8 251,84.3 244,70.3"/>
<polygon fill="#fa8c28" points="311.4,56 343,58 343,68 330,74.6 318.4,74 311.4,70"/>
<polygon fill="#fa8c28" points="357.1,60 374,60 376,74.4 371.2,83 366,86 362,74.4"/>
<polygon fill="#fa8c28" points="356.5,98.4 377.6,94.9 388,112.5 388,119.5 370.5,119.5 356.5,116"/>
<polygon fill="#fa8c28" points="286.1,130 307.2,119.5 338.9,119.5 356.5,116 377.6,119.5 388,130 384.6,147.6 377.6,161.7 363.5,172.2 349.4,182.8 300.2,182.8 293.2,172.2 286.1,154.6"/>
<polygon fill="#f8f852" points="344,124 360,120 389,122 386,140 378,160 368,166 356,168 350,160 356,150 350,140 344,132"/>
<polygon fill="#f8f852" points="314.3,119.5 340,119.5 344,130 330,140 316,142"/>
<polygon fill="#8fc49a" points="338.8,176 352,170 368,166 378,160 384,156 386,168 380,186 360,188 340,188"/>
<polygon fill="#fa8c28" points="237.6,129 252,128 262,132 258,144 240,146"/>
<polygon fill="#fa8c28" points="262,123.6 272.7,123.6 272.7,132.4 262,132.4"/>
<polygon fill="#fa8c28" points="200,135 206,135 206,142 200,142"/>
<polygon fill="#fa8c28" points="266,110 272,110 272,116 266,116"/>
<polygon fill="#fa0a0a" points="385,158 395,157 402,165 406,178 410,195 413,210 410,224 404,234 392,236 382,228 376,214 374.5,200 376,186 380,172"/>
<polygon fill="#0a90c8" points="395,203 406.4,203 406.4,216 395,216"/>
<rect x="386.1" y="156.0" width="3.95" height="3.95" fill="#fa8c28"/><rect x="382.2" y="159.9" width="3.95" height="3.95" fill="#f8f852"/><rect x="386.1" y="163.8" width="3.95" height="3.95" fill="#fa8c28"/><rect x="390.0" y="163.8" width="3.95" height="3.95" fill="#f8f852"/><rect x="386.1" y="167.7" width="3.95" height="3.95" fill="#8fc49a"/><rect x="393.9" y="175.5" width="3.95" height="3.95" fill="#fa8c28"/><rect x="378.3" y="179.4" width="3.95" height="3.95" fill="#fa8c28"/><rect x="382.2" y="179.4" width="3.95" height="3.95" fill="#fa8c28"/><rect x="401.7" y="179.4" width="3.95" height="3.95" fill="#fa8c28"/><rect x="382.2" y="183.3" width="3.95" height="3.95" fill="#f8f852"/><rect x="386.1" y="183.3" width="3.95" height="3.95" fill="#0a90c8"/><rect x="374.4" y="187.2" width="3.95" height="3.95" fill="#0a90c8"/><rect x="393.9" y="187.2" width="3.95" height="3.95" fill="#fa8c28"/><rect x="401.7" y="187.2" width="3.95" height="3.95" fill="#fa8c28"/><rect x="393.9" y="195.0" width="3.95" height="3.95" fill="#8fc49a"/><rect x="374.4" y="198.9" width="3.95" height="3.95" fill="#8fc49a"/><rect x="378.3" y="198.9" width="3.95" height="3.95" fill="#fa8c28"/><rect x="382.2" y="198.9" width="3.95" height="3.95" fill="#f8f852"/><rect x="393.9" y="198.9" width="3.95" height="3.95" fill="#0a90c8"/><rect x="378.3" y="202.8" width="3.95" height="3.95" fill="#f8f852"/><rect x="401.7" y="202.8" width="3.95" height="3.95" fill="#fa8c28"/><rect x="405.6" y="202.8" width="3.95" height="3.95" fill="#fa8c28"/><rect x="378.3" y="206.7" width="3.95" height="3.95" fill="#f8f852"/><rect x="386.1" y="206.7" width="3.95" height="3.95" fill="#f8f852"/><rect x="390.0" y="206.7" width="3.95" height="3.95" fill="#fa8c28"/><rect x="405.6" y="206.7" width="3.95" height="3.95" fill="#f8f852"/><rect x="405.6" y="210.6" width="3.95" height="3.95" fill="#0a90c8"/><rect x="409.5" y="210.6" width="3.95" height="3.95" fill="#f8f852"/><rect x="378.3" y="214.5" width="3.95" height="3.95" fill="#f8f852"/><rect x="401.7" y="214.5" width="3.95" height="3.95" fill="#f8f852"/><rect x="378.3" y="218.4" width="3.95" height="3.95" fill="#fa8c28"/><rect x="386.1" y="218.4" width="3.95" height="3.95" fill="#fa8c28"/><rect x="397.8" y="226.2" width="3.95" height="3.95" fill="#f8f852"/><rect x="401.7" y="226.2" width="3.95" height="3.95" fill="#f8f852"/><rect x="386.1" y="230.1" width="3.95" height="3.95" fill="#f8f852"/><rect x="390.0" y="230.1" width="3.95" height="3.95" fill="#8fc49a"/>
<polygon fill="#f8f852" points="412,192 440,192 470,186 478,184 472,200 455,206 440,212 425,214 414,212"/>
<polygon fill="#fa0a0a" points="414,195.4 436.5,194 436.5,206.7 416,208"/>
<rect x="452.4" y="187.2" width="3.95" height="3.95" fill="#f8f852"/><rect x="456.3" y="187.2" width="3.95" height="3.95" fill="#8fc49a"/><rect x="460.2" y="187.2" width="3.95" height="3.95" fill="#8fc49a"/><rect x="464.1" y="187.2" width="3.95" height="3.95" fill="#fa8c28"/><rect x="468.0" y="187.2" width="3.95" height="3.95" fill="#fa0a0a"/><rect x="471.9" y="187.2" width="3.95" height="3.95" fill="#fa8c28"/><rect x="413.4" y="191.1" width="3.95" height="3.95" fill="#f8f852"/><rect x="417.3" y="191.1" width="3.95" height="3.95" fill="#8fc49a"/><rect x="421.2" y="191.1" width="3.95" height="3.95" fill="#f8f852"/><rect x="425.1" y="191.1" width="3.95" height="3.95" fill="#8fc49a"/><rect x="456.3" y="191.1" width="3.95" height="3.95" fill="#f8f852"/><rect x="460.2" y="191.1" width="3.95" height="3.95" fill="#fa8c28"/><rect x="464.1" y="191.1" width="3.95" height="3.95" fill="#fa8c28"/><rect x="413.4" y="195.0" width="3.95" height="3.95" fill="#f8f852"/><rect x="421.2" y="195.0" width="3.95" height="3.95" fill="#8fc49a"/><rect x="429.0" y="195.0" width="3.95" height="3.95" fill="#fa8c28"/><rect x="432.9" y="195.0" width="3.95" height="3.95" fill="#fa0a0a"/><rect x="436.8" y="195.0" width="3.95" height="3.95" fill="#f8f852"/><rect x="440.7" y="195.0" width="3.95" height="3.95" fill="#f8f852"/><rect x="444.6" y="195.0" width="3.95" height="3.95" fill="#f8f852"/><rect x="448.5" y="195.0" width="3.95" height="3.95" fill="#8fc49a"/><rect x="452.4" y="195.0" width="3.95" height="3.95" fill="#8fc49a"/><rect x="464.1" y="195.0" width="3.95" height="3.95" fill="#fa8c28"/><rect x="413.4" y="198.9" width="3.95" height="3.95" fill="#fa8c28"/><rect x="417.3" y="198.9" width="3.95" height="3.95" fill="#f8f852"/><rect x="421.2" y="198.9" width="3.95" height="3.95" fill="#fa8c28"/><rect x="425.1" y="198.9" width="3.95" height="3.95" fill="#fa0a0a"/><rect x="429.0" y="198.9" width="3.95" height="3.95" fill="#fa8c28"/><rect x="440.7" y="198.9" width="3.95" height="3.95" fill="#f8f852"/><rect x="448.5" y="198.9" width="3.95" height="3.95" fill="#f8f852"/><rect x="452.4" y="198.9" width="3.95" height="3.95" fill="#8fc49a"/><rect x="456.3" y="198.9" width="3.95" height="3.95" fill="#fa8c28"/><rect x="464.1" y="198.9" width="3.95" height="3.95" fill="#fa0a0a"/><rect x="413.4" y="202.8" width="3.95" height="3.95" fill="#f8f852"/><rect x="417.3" y="202.8" width="3.95" height="3.95" fill="#8fc49a"/><rect x="421.2" y="202.8" width="3.95" height="3.95" fill="#fa8c28"/><rect x="429.0" y="202.8" width="3.95" height="3.95" fill="#fa8c28"/><rect x="432.9" y="202.8" width="3.95" height="3.95" fill="#fa0a0a"/><rect x="436.8" y="202.8" width="3.95" height="3.95" fill="#fa8c28"/><rect x="440.7" y="202.8" width="3.95" height="3.95" fill="#fa0a0a"/><rect x="444.6" y="202.8" width="3.95" height="3.95" fill="#8fc49a"/><rect x="452.4" y="202.8" width="3.95" height="3.95" fill="#8fc49a"/><rect x="456.3" y="202.8" width="3.95" height="3.95" fill="#f8f852"/><rect x="413.4" y="206.7" width="3.95" height="3.95" fill="#fa0a0a"/><rect x="417.3" y="206.7" width="3.95" height="3.95" fill="#8fc49a"/><rect x="425.1" y="206.7" width="3.95" height="3.95" fill="#fa8c28"/><rect x="432.9" y="206.7" width="3.95" height="3.95" fill="#fa0a0a"/><rect x="436.8" y="206.7" width="3.95" height="3.95" fill="#8fc49a"/><rect x="444.6" y="206.7" width="3.95" height="3.95" fill="#f8f852"/><rect x="417.3" y="210.6" width="3.95" height="3.95" fill="#8fc49a"/><rect x="421.2" y="210.6" width="3.95" height="3.95" fill="#8fc49a"/><rect x="425.1" y="210.6" width="3.95" height="3.95" fill="#fa8c28"/><rect x="432.9" y="210.6" width="3.95" height="3.95" fill="#8fc49a"/>
<polygon fill="#fa0a0a" points="371,244 385,243 393,250 395,270 388,278 376,276 370,262"/>
<rect x="382.2" y="241.8" width="3.95" height="3.95" fill="#8fc49a"/><rect x="378.3" y="245.7" width="3.95" height="3.95" fill="#f8f852"/><rect x="386.1" y="245.7" width="3.95" height="3.95" fill="#8fc49a"/><rect x="370.5" y="249.6" width="3.95" height="3.95" fill="#f8f852"/><rect x="390.0" y="249.6" width="3.95" height="3.95" fill="#f8f852"/><rect x="386.1" y="253.5" width="3.95" height="3.95" fill="#fa8c28"/><rect x="390.0" y="253.5" width="3.95" height="3.95" fill="#f8f852"/><rect x="378.3" y="257.4" width="3.95" height="3.95" fill="#f8f852"/><rect x="386.1" y="257.4" width="3.95" height="3.95" fill="#fa8c28"/><rect x="390.0" y="257.4" width="3.95" height="3.95" fill="#8fc49a"/><rect x="370.5" y="261.3" width="3.95" height="3.95" fill="#f8f852"/><rect x="374.4" y="261.3" width="3.95" height="3.95" fill="#fa8c28"/><rect x="386.1" y="261.3" width="3.95" height="3.95" fill="#8fc49a"/><rect x="390.0" y="265.2" width="3.95" height="3.95" fill="#0a90c8"/><rect x="374.4" y="269.1" width="3.95" height="3.95" fill="#f8f852"/><rect x="378.3" y="269.1" width="3.95" height="3.95" fill="#0a90c8"/><rect x="382.2" y="269.1" width="3.95" height="3.95" fill="#8fc49a"/><rect x="390.0" y="269.1" width="3.95" height="3.95" fill="#0a90c8"/><rect x="378.3" y="273.0" width="3.95" height="3.95" fill="#8fc49a"/><rect x="386.1" y="273.0" width="3.95" height="3.95" fill="#f8f852"/>
<polygon fill="#fa0a0a" points="334,254 348,252 356,262 354,278 342,282 333,270"/>
<rect x="339.3" y="253.5" width="3.95" height="3.95" fill="#f8f852"/><rect x="343.2" y="253.5" width="3.95" height="3.95" fill="#0a90c8"/><rect x="347.1" y="253.5" width="3.95" height="3.95" fill="#8fc49a"/><rect x="343.2" y="257.4" width="3.95" height="3.95" fill="#fa8c28"/><rect x="347.1" y="257.4" width="3.95" height="3.95" fill="#f8f852"/><rect x="335.4" y="261.3" width="3.95" height="3.95" fill="#0a90c8"/><rect x="343.2" y="261.3" width="3.95" height="3.95" fill="#f8f852"/><rect x="347.1" y="261.3" width="3.95" height="3.95" fill="#0a90c8"/><rect x="331.5" y="265.2" width="3.95" height="3.95" fill="#f8f852"/><rect x="335.4" y="265.2" width="3.95" height="3.95" fill="#0a90c8"/><rect x="343.2" y="269.1" width="3.95" height="3.95" fill="#8fc49a"/><rect x="347.1" y="269.1" width="3.95" height="3.95" fill="#8fc49a"/><rect x="351.0" y="269.1" width="3.95" height="3.95" fill="#8fc49a"/><rect x="335.4" y="273.0" width="3.95" height="3.95" fill="#f8f852"/><rect x="339.3" y="273.0" width="3.95" height="3.95" fill="#f8f852"/><rect x="343.2" y="273.0" width="3.95" height="3.95" fill="#f8f852"/><rect x="351.0" y="273.0" width="3.95" height="3.95" fill="#f8f852"/><rect x="339.3" y="276.9" width="3.95" height="3.95" fill="#fa8c28"/><rect x="343.2" y="276.9" width="3.95" height="3.95" fill="#fa8c28"/>
<polygon fill="#fa8c28" points="30,330 220,330 240.8,321.5 247,317.4 261.5,315.3 282.3,317.4 292.7,319.5 303,320.5 313.5,319.5 323.8,313.2 332.1,305 336.3,296.6 338.4,288.3 350,300 365,318 380,330 395,335 420,335 495,335 495,495 30,495"/>
<polygon fill="#fa0a0a" points="340,276 360,270 380,274 396,284 398,310 392,326 378,332 360,330 342,322 336,300"/>
<rect x="347.1" y="273.0" width="3.95" height="3.95" fill="#8fc49a"/><rect x="351.0" y="273.0" width="3.95" height="3.95" fill="#0a90c8"/><rect x="362.7" y="273.0" width="3.95" height="3.95" fill="#8fc49a"/><rect x="366.6" y="273.0" width="3.95" height="3.95" fill="#0a90c8"/><rect x="378.3" y="273.0" width="3.95" height="3.95" fill="#8fc49a"/><rect x="339.3" y="276.9" width="3.95" height="3.95" fill="#8fc49a"/><rect x="343.2" y="276.9" width="3.95" height="3.95" fill="#fa8c28"/><rect x="347.1" y="276.9" width="3.95" height="3.95" fill="#f8f852"/><rect x="351.0" y="276.9" width="3.95" height="3.95" fill="#f8f852"/><rect x="358.8" y="276.9" width="3.95" height="3.95" fill="#0a90c8"/><rect x="362.7" y="276.9" width="3.95" height="3.95" fill="#0a90c8"/><rect x="370.5" y="276.9" width="3.95" height="3.95" fill="#f8f852"/><rect x="382.2" y="276.9" width="3.95" height="3.95" fill="#f8f852"/><rect x="347.1" y="280.8" width="3.95" height="3.95" fill="#fa8c28"/><rect x="351.0" y="280.8" width="3.95" height="3.95" fill="#f8f852"/><rect x="358.8" y="280.8" width="3.95" height="3.95" fill="#fa8c28"/><rect x="362.7" y="280.8" width="3.95" height="3.95" fill="#8fc49a"/><rect x="366.6" y="280.8" width="3.95" height="3.95" fill="#f8f852"/><rect x="382.2" y="280.8" width="3.95" height="3.95" fill="#f8f852"/><rect x="390.0" y="280.8" width="3.95" height="3.95" fill="#0a90c8"/><rect x="354.9" y="284.7" width="3.95" height="3.95" fill="#0a90c8"/><rect x="358.8" y="284.7" width="3.95" height="3.95" fill="#f8f852"/><rect x="362.7" y="284.7" width="3.95" height="3.95" fill="#f8f852"/><rect x="366.6" y="284.7" width="3.95" height="3.95" fill="#8fc49a"/><rect x="382.2" y="284.7" width="3.95" height="3.95" fill="#0a90c8"/><rect x="386.1" y="284.7" width="3.95" height="3.95" fill="#fa8c28"/><rect x="393.9" y="284.7" width="3.95" height="3.95" fill="#f8f852"/><rect x="351.0" y="288.6" width="3.95" height="3.95" fill="#f8f852"/><rect x="358.8" y="288.6" width="3.95" height="3.95" fill="#8fc49a"/><rect x="362.7" y="288.6" width="3.95" height="3.95" fill="#8fc49a"/><rect x="370.5" y="288.6" width="3.95" height="3.95" fill="#fa8c28"/><rect x="378.3" y="288.6" width="3.95" height="3.95" fill="#fa8c28"/><rect x="393.9" y="288.6" width="3.95" height="3.95" fill="#8fc49a"/><rect x="339.3" y="292.5" width="3.95" height="3.95" fill="#f8f852"/><rect x="343.2" y="292.5" width="3.95" height="3.95" fill="#fa8c28"/><rect x="347.1" y="292.5" width="3.95" height="3.95" fill="#8fc49a"/><rect x="358.8" y="292.5" width="3.95" height="3.95" fill="#fa8c28"/><rect x="366.6" y="292.5" width="3.95" height="3.95" fill="#0a90c8"/><rect x="374.4" y="292.5" width="3.95" height="3.95" fill="#f8f852"/><rect x="378.3" y="292.5" width="3.95" height="3.95" fill="#8fc49a"/><rect x="382.2" y="292.5" width="3.95" height="3.95" fill="#8fc49a"/><rect x="386.1" y="292.5" width="3.95" height="3.95" fill="#f8f852"/><rect x="390.0" y="292.5" width="3.95" height="3.95" fill="#fa8c28"/><rect x="393.9" y="292.5" width="3.95" height="3.95" fill="#f8f852"/><rect x="335.4" y="296.4" width="3.95" height="3.95" fill="#8fc49a"/><rect x="339.3" y="296.4" width="3.95" height="3.95" fill="#f8f852"/><rect x="347.1" y="296.4" width="3.95" height="3.95" fill="#0a90c8"/><rect x="362.7" y="296.4" width="3.95" height="3.95" fill="#f8f852"/><rect x="370.5" y="296.4" width="3.95" height="3.95" fill="#8fc49a"/><rect x="374.4" y="296.4" width="3.95" height="3.95" fill="#fa8c28"/><rect x="378.3" y="296.4" width="3.95" height="3.95" fill="#0a90c8"/><rect x="382.2" y="296.4" width="3.95" height="3.95" fill="#fa8c28"/><rect x="386.1" y="296.4" width="3.95" height="3.95" fill="#fa8c28"/><rect x="335.4" y="300.3" width="3.95" height="3.95" fill="#0a90c8"/><rect x="343.2" y="300.3" width="3.95" height="3.95" fill="#fa8c28"/><rect x="347.1" y="300.3" width="3.95" height="3.95" fill="#f8f852"/><rect x="354.9" y="300.3" width="3.95" height="3.95" fill="#fa8c28"/><rect x="366.6" y="300.3" width="3.95" height="3.95" fill="#8fc49a"/><rect x="374.4" y="300.3" width="3.95" height="3.95" fill="#f8f852"/><rect x="390.0" y="300.3" width="3.95" height="3.95" fill="#8fc49a"/><rect x="393.9" y="300.3" width="3.95" height="3.95" fill="#8fc49a"/><rect x="343.2" y="304.2" width="3.95" height="3.95" fill="#f8f852"/><rect x="351.0" y="304.2" width="3.95" height="3.95" fill="#8fc49a"/><rect x="354.9" y="304.2" width="3.95" height="3.95" fill="#8fc49a"/><rect x="358.8" y="304.2" width="3.95" height="3.95" fill="#f8f852"/><rect x="362.7" y="304.2" width="3.95" height="3.95" fill="#8fc49a"/><rect x="366.6" y="304.2" width="3.95" height="3.95" fill="#0a90c8"/><rect x="370.5" y="304.2" width="3.95" height="3.95" fill="#8fc49a"/><rect x="374.4" y="304.2" width="3.95" height="3.95" fill="#0a90c8"/><rect x="378.3" y="304.2" width="3.95" height="3.95" fill="#8fc49a"/><rect x="386.1" y="304.2" width="3.95" height="3.95" fill="#fa8c28"/><rect x="390.0" y="304.2" width="3.95" height="3.95" fill="#8fc49a"/><rect x="393.9" y="304.2" width="3.95" height="3.95" fill="#f8f852"/><rect x="343.2" y="308.1" width="3.95" height="3.95" fill="#f8f852"/><rect x="347.1" y="308.1" width="3.95" height="3.95" fill="#0a90c8"/><rect x="362.7" y="308.1" width="3.95" height="3.95" fill="#f8f852"/><rect x="366.6" y="308.1" width="3.95" height="3.95" fill="#fa8c28"/><rect x="386.1" y="308.1" width="3.95" height="3.95" fill="#f8f852"/><rect x="390.0" y="308.1" width="3.95" height="3.95" fill="#f8f852"/><rect x="339.3" y="312.0" width="3.95" height="3.95" fill="#fa8c28"/><rect x="347.1" y="312.0" width="3.95" height="3.95" fill="#f8f852"/><rect x="358.8" y="312.0" width="3.95" height="3.95" fill="#0a90c8"/><rect x="362.7" y="312.0" width="3.95" height="3.95" fill="#8fc49a"/><rect x="370.5" y="312.0" width="3.95" height="3.95" fill="#8fc49a"/><rect x="374.4" y="312.0" width="3.95" height="3.95" fill="#fa8c28"/><rect x="386.1" y="312.0" width="3.95" height="3.95" fill="#0a90c8"/><rect x="390.0" y="312.0" width="3.95" height="3.95" fill="#f8f852"/><rect x="339.3" y="315.9" width="3.95" height="3.95" fill="#fa8c28"/><rect x="343.2" y="315.9" width="3.95" height="3.95" fill="#0a90c8"/><rect x="354.9" y="315.9" width="3.95" height="3.95" fill="#0a90c8"/><rect x="358.8" y="315.9" width="3.95" height="3.95" fill="#f8f852"/><rect x="362.7" y="315.9" width="3.95" height="3.95" fill="#f8f852"/><rect x="366.6" y="315.9" width="3.95" height="3.95" fill="#8fc49a"/><rect x="378.3" y="315.9" width="3.95" height="3.95" fill="#fa8c28"/><rect x="382.2" y="315.9" width="3.95" height="3.95" fill="#f8f852"/><rect x="343.2" y="319.8" width="3.95" height="3.95" fill="#8fc49a"/><rect x="362.7" y="319.8" width="3.95" height="3.95" fill="#0a90c8"/><rect x="366.6" y="319.8" width="3.95" height="3.95" fill="#fa8c28"/><rect x="370.5" y="319.8" width="3.95" height="3.95" fill="#f8f852"/><rect x="378.3" y="319.8" width="3.95" height="3.95" fill="#0a90c8"/><rect x="382.2" y="319.8" width="3.95" height="3.95" fill="#fa8c28"/><rect x="386.1" y="319.8" width="3.95" height="3.95" fill="#f8f852"/><rect x="390.0" y="319.8" width="3.95" height="3.95" fill="#0a90c8"/><rect x="358.8" y="323.7" width="3.95" height="3.95" fill="#8fc49a"/><rect x="366.6" y="323.7" width="3.95" height="3.95" fill="#0a90c8"/><rect x="370.5" y="323.7" width="3.95" height="3.95" fill="#0a90c8"/><rect x="382.2" y="323.7" width="3.95" height="3.95" fill="#fa8c28"/><rect x="386.1" y="323.7" width="3.95" height="3.95" fill="#fa8c28"/><rect x="370.5" y="327.6" width="3.95" height="3.95" fill="#0a90c8"/>
<polygon fill="#0a90c8" points="392,300 406,300 412,335 410,360 396,372 388,368 394,330"/>
<polygon fill="#8fc49a" points="366,330 392,330 392,360 380,382 372,378 366,350"/>
<rect x="366.6" y="331.5" width="3.95" height="3.95" fill="#8fc49a"/><rect x="370.5" y="331.5" width="3.95" height="3.95" fill="#f8f852"/><rect x="374.4" y="331.5" width="3.95" height="3.95" fill="#0a90c8"/><rect x="378.3" y="331.5" width="3.95" height="3.95" fill="#0a90c8"/><rect x="382.2" y="331.5" width="3.95" height="3.95" fill="#8fc49a"/><rect x="386.1" y="331.5" width="3.95" height="3.95" fill="#fa8c28"/><rect x="390.0" y="331.5" width="3.95" height="3.95" fill="#fa0a0a"/><rect x="366.6" y="335.4" width="3.95" height="3.95" fill="#fa8c28"/><rect x="370.5" y="335.4" width="3.95" height="3.95" fill="#8fc49a"/><rect x="374.4" y="335.4" width="3.95" height="3.95" fill="#fa8c28"/><rect x="378.3" y="335.4" width="3.95" height="3.95" fill="#f8f852"/><rect x="382.2" y="335.4" width="3.95" height="3.95" fill="#8fc49a"/><rect x="386.1" y="335.4" width="3.95" height="3.95" fill="#f8f852"/><rect x="390.0" y="335.4" width="3.95" height="3.95" fill="#8fc49a"/><rect x="366.6" y="339.3" width="3.95" height="3.95" fill="#fa0a0a"/><rect x="370.5" y="339.3" width="3.95" height="3.95" fill="#8fc49a"/><rect x="374.4" y="339.3" width="3.95" height="3.95" fill="#f8f852"/><rect x="378.3" y="339.3" width="3.95" height="3.95" fill="#fa0a0a"/><rect x="382.2" y="339.3" width="3.95" height="3.95" fill="#0a90c8"/><rect x="386.1" y="339.3" width="3.95" height="3.95" fill="#f8f852"/><rect x="390.0" y="339.3" width="3.95" height="3.95" fill="#8fc49a"/><rect x="366.6" y="343.2" width="3.95" height="3.95" fill="#8fc49a"/><rect x="370.5" y="343.2" width="3.95" height="3.95" fill="#f8f852"/><rect x="374.4" y="343.2" width="3.95" height="3.95" fill="#0a90c8"/><rect x="378.3" y="343.2" width="3.95" height="3.95" fill="#8fc49a"/><rect x="382.2" y="343.2" width="3.95" height="3.95" fill="#f8f852"/><rect x="386.1" y="343.2" width="3.95" height="3.95" fill="#0a90c8"/><rect x="390.0" y="343.2" width="3.95" height="3.95" fill="#f8f852"/><rect x="366.6" y="347.1" width="3.95" height="3.95" fill="#f8f852"/><rect x="370.5" y="347.1" width="3.95" height="3.95" fill="#fa0a0a"/><rect x="374.4" y="347.1" width="3.95" height="3.95" fill="#fa0a0a"/><rect x="378.3" y="347.1" width="3.95" height="3.95" fill="#fa0a0a"/><rect x="382.2" y="347.1" width="3.95" height="3.95" fill="#8fc49a"/><rect x="386.1" y="347.1" width="3.95" height="3.95" fill="#f8f852"/><rect x="390.0" y="347.1" width="3.95" height="3.95" fill="#8fc49a"/><rect x="366.6" y="351.0" width="3.95" height="3.95" fill="#f8f852"/><rect x="370.5" y="351.0" width="3.95" height="3.95" fill="#0a90c8"/><rect x="374.4" y="351.0" width="3.95" height="3.95" fill="#fa0a0a"/><rect x="378.3" y="351.0" width="3.95" height="3.95" fill="#fa0a0a"/><rect x="382.2" y="351.0" width="3.95" height="3.95" fill="#8fc49a"/><rect x="386.1" y="351.0" width="3.95" height="3.95" fill="#fa0a0a"/><rect x="390.0" y="351.0" width="3.95" height="3.95" fill="#8fc49a"/><rect x="366.6" y="354.9" width="3.95" height="3.95" fill="#0a90c8"/><rect x="370.5" y="354.9" width="3.95" height="3.95" fill="#8fc49a"/><rect x="374.4" y="354.9" width="3.95" height="3.95" fill="#8fc49a"/><rect x="378.3" y="354.9" width="3.95" height="3.95" fill="#fa0a0a"/><rect x="382.2" y="354.9" width="3.95" height="3.95" fill="#8fc49a"/><rect x="386.1" y="354.9" width="3.95" height="3.95" fill="#f8f852"/><rect x="390.0" y="354.9" width="3.95" height="3.95" fill="#fa0a0a"/><rect x="366.6" y="358.8" width="3.95" height="3.95" fill="#8fc49a"/><rect x="370.5" y="358.8" width="3.95" height="3.95" fill="#fa0a0a"/><rect x="374.4" y="358.8" width="3.95" height="3.95" fill="#8fc49a"/><rect x="378.3" y="358.8" width="3.95" height="3.95" fill="#0a90c8"/><rect x="382.2" y="358.8" width="3.95" height="3.95" fill="#f8f852"/><rect x="386.1" y="358.8" width="3.95" height="3.95" fill="#8fc49a"/><rect x="370.5" y="362.7" width="3.95" height="3.95" fill="#f8f852"/><rect x="374.4" y="362.7" width="3.95" height="3.95" fill="#0a90c8"/><rect x="378.3" y="362.7" width="3.95" height="3.95" fill="#0a90c8"/><rect x="382.2" y="362.7" width="3.95" height="3.95" fill="#fa0a0a"/><rect x="386.1" y="362.7" width="3.95" height="3.95" fill="#f8f852"/><rect x="370.5" y="366.6" width="3.95" height="3.95" fill="#f8f852"/><rect x="374.4" y="366.6" width="3.95" height="3.95" fill="#8fc49a"/><rect x="378.3" y="366.6" width="3.95" height="3.95" fill="#8fc49a"/><rect x="382.2" y="366.6" width="3.95" height="3.95" fill="#8fc49a"/><rect x="370.5" y="370.5" width="3.95" height="3.95" fill="#fa0a0a"/><rect x="374.4" y="370.5" width="3.95" height="3.95" fill="#0a90c8"/><rect x="378.3" y="370.5" width="3.95" height="3.95" fill="#fa8c28"/><rect x="382.2" y="370.5" width="3.95" height="3.95" fill="#8fc49a"/><rect x="370.5" y="374.4" width="3.95" height="3.95" fill="#f8f852"/><rect x="374.4" y="374.4" width="3.95" height="3.95" fill="#0a90c8"/><rect x="378.3" y="374.4" width="3.95" height="3.95" fill="#f8f852"/><rect x="378.3" y="378.3" width="3.95" height="3.95" fill="#f8f852"/>
<polygon fill="#f8f852" points="361.2,386 377.8,384 378,404.6 366,404.6 361.2,395"/>
<rect x="237.9" y="315.9" width="3.95" height="3.95" fill="#f8f852"/><rect x="241.8" y="315.9" width="3.95" height="3.95" fill="#8fc49a"/><rect x="245.7" y="315.9" width="3.95" height="3.95" fill="#f8f852"/><rect x="253.5" y="315.9" width="3.95" height="3.95" fill="#f8f852"/><rect x="257.4" y="315.9" width="3.95" height="3.95" fill="#f8f852"/><rect x="261.3" y="315.9" width="3.95" height="3.95" fill="#8fc49a"/><rect x="265.2" y="315.9" width="3.95" height="3.95" fill="#8fc49a"/><rect x="269.1" y="315.9" width="3.95" height="3.95" fill="#8fc49a"/><rect x="276.9" y="315.9" width="3.95" height="3.95" fill="#f8f852"/><rect x="288.6" y="315.9" width="3.95" height="3.95" fill="#f8f852"/><rect x="292.5" y="315.9" width="3.95" height="3.95" fill="#f8f852"/><rect x="237.9" y="319.8" width="3.95" height="3.95" fill="#f8f852"/><rect x="241.8" y="319.8" width="3.95" height="3.95" fill="#8fc49a"/><rect x="245.7" y="319.8" width="3.95" height="3.95" fill="#f8f852"/><rect x="249.6" y="319.8" width="3.95" height="3.95" fill="#8fc49a"/><rect x="265.2" y="319.8" width="3.95" height="3.95" fill="#f8f852"/><rect x="276.9" y="319.8" width="3.95" height="3.95" fill="#8fc49a"/><rect x="280.8" y="319.8" width="3.95" height="3.95" fill="#8fc49a"/><rect x="284.7" y="319.8" width="3.95" height="3.95" fill="#f8f852"/><rect x="292.5" y="319.8" width="3.95" height="3.95" fill="#f8f852"/><rect x="237.9" y="323.7" width="3.95" height="3.95" fill="#f8f852"/><rect x="241.8" y="323.7" width="3.95" height="3.95" fill="#8fc49a"/><rect x="245.7" y="323.7" width="3.95" height="3.95" fill="#f8f852"/><rect x="249.6" y="323.7" width="3.95" height="3.95" fill="#f8f852"/><rect x="257.4" y="323.7" width="3.95" height="3.95" fill="#f8f852"/><rect x="269.1" y="323.7" width="3.95" height="3.95" fill="#8fc49a"/><rect x="273.0" y="323.7" width="3.95" height="3.95" fill="#8fc49a"/><rect x="276.9" y="323.7" width="3.95" height="3.95" fill="#f8f852"/><rect x="280.8" y="323.7" width="3.95" height="3.95" fill="#8fc49a"/><rect x="292.5" y="323.7" width="3.95" height="3.95" fill="#8fc49a"/><rect x="241.8" y="327.6" width="3.95" height="3.95" fill="#8fc49a"/><rect x="249.6" y="327.6" width="3.95" height="3.95" fill="#f8f852"/><rect x="253.5" y="327.6" width="3.95" height="3.95" fill="#f8f852"/><rect x="261.3" y="327.6" width="3.95" height="3.95" fill="#8fc49a"/><rect x="269.1" y="327.6" width="3.95" height="3.95" fill="#8fc49a"/><rect x="276.9" y="327.6" width="3.95" height="3.95" fill="#f8f852"/><rect x="280.8" y="327.6" width="3.95" height="3.95" fill="#f8f852"/><rect x="284.7" y="327.6" width="3.95" height="3.95" fill="#8fc49a"/><rect x="288.6" y="327.6" width="3.95" height="3.95" fill="#8fc49a"/><rect x="292.5" y="327.6" width="3.95" height="3.95" fill="#8fc49a"/>
<polygon fill="#fa0a0a" points="242.9,322 262,320.4 275,326 278,340 272,359 250,359 242.9,345"/>
<polygon fill="#8fc49a" points="278,329 293.8,329 293.8,352 282,352 279,342"/>
<rect x="280.8" y="327.6" width="3.95" height="3.95" fill="#f8f852"/><rect x="276.9" y="331.5" width="3.95" height="3.95" fill="#f8f852"/><rect x="284.7" y="331.5" width="3.95" height="3.95" fill="#f8f852"/><rect x="276.9" y="335.4" width="3.95" height="3.95" fill="#f8f852"/><rect x="284.7" y="335.4" width="3.95" height="3.95" fill="#f8f852"/><rect x="280.8" y="339.3" width="3.95" height="3.95" fill="#f8f852"/><rect x="284.7" y="339.3" width="3.95" height="3.95" fill="#f8f852"/><rect x="288.6" y="339.3" width="3.95" height="3.95" fill="#f8f852"/><rect x="280.8" y="343.2" width="3.95" height="3.95" fill="#f8f852"/>
<rect x="230.1" y="339.3" width="3.95" height="3.95" fill="#f8f852"/><rect x="234.0" y="339.3" width="3.95" height="3.95" fill="#fa0a0a"/><rect x="237.9" y="339.3" width="3.95" height="3.95" fill="#f8f852"/><rect x="230.1" y="343.2" width="3.95" height="3.95" fill="#8fc49a"/><rect x="237.9" y="343.2" width="3.95" height="3.95" fill="#fa0a0a"/><rect x="230.1" y="347.1" width="3.95" height="3.95" fill="#f8f852"/><rect x="234.0" y="347.1" width="3.95" height="3.95" fill="#f8f852"/><rect x="237.9" y="347.1" width="3.95" height="3.95" fill="#8fc49a"/><rect x="230.1" y="351.0" width="3.95" height="3.95" fill="#f8f852"/><rect x="234.0" y="351.0" width="3.95" height="3.95" fill="#8fc49a"/><rect x="230.1" y="354.9" width="3.95" height="3.95" fill="#fa0a0a"/><rect x="237.9" y="354.9" width="3.95" height="3.95" fill="#f8f852"/><rect x="230.1" y="358.8" width="3.95" height="3.95" fill="#f8f852"/><rect x="234.0" y="358.8" width="3.95" height="3.95" fill="#8fc49a"/>
<polygon fill="#fa0a0a" points="230.4,365.2 247,365.2 272,377.6 282.3,392.1 286.5,400.5 272,404.6 263.6,408.8 265.7,425.4 261.5,433.7 255.3,425.4 247,408.8 238.7,388 232.5,375.5"/>
<polygon fill="#fa0a0a" points="310,318 330,318 350,322 365.4,335 365.4,350 360,367.2 340,367.2 320,367.2 305,360 310,340"/>
<polygon fill="#fa8c28" points="294.8,330 310,328 316,345 312,360 300,362 294.8,345"/>
<polygon fill="#fa0a0a" points="321.8,362 340,359 363.3,362 363.3,385 350,396.3 330,396.3 322,380"/>
<polygon fill="#fa0a0a" points="318,384 330,388 345,392 355,398 350,410 335,408 320,400"/>
<polygon fill="#fa0a0a" points="310,404 330,396 352,398 362,408 363.3,425 358,440 345,448 330,450.3 316,446 306,430 303,415"/>
<polygon fill="#8fc49a" points="327,437 337,436 340,443 332,447 326,444"/>
<polygon fill="#f8f852" points="292,370 312,369 318,376 300,378"/>
<polygon fill="#f8f852" points="284,460 292,458 292,464 284,464"/>
<polygon fill="#f8f852" points="300,468 310,468 310,472 300,472"/>
</g>
<g clip-path="url(#mg)"><rect x="420" y="325" width="60" height="100" fill="#fa0a0a"/>
<polygon fill="#f8f852" points="430,350 456,342 458,350 452,360 445,368 440,385 436,388 430,380"/>
<polygon fill="#8fc49a" points="430,350 455,342 456,347 448,356 442,362 438,378 435,386 430,378"/>
<polygon fill="#0a90c8" points="430,350 453,342 454,346 446,352 438,358 435,374 433,383 430,376"/>
<polygon fill="#f8f852" points="426,388 435,386 434,398 427,398"/>
</g>
<circle cx="426" cy="330.5" r="1.5" fill="#fa0a0a" stroke="#222" stroke-width="0.5"/>
<circle cx="429.5" cy="334" r="1.5" fill="#fa0a0a" stroke="#222" stroke-width="0.5"/>
<circle cx="434.5" cy="334.5" r="1.5" fill="#fa0a0a" stroke="#222" stroke-width="0.5"/>
<circle cx="438.5" cy="337.5" r="1.5" fill="#fa0a0a" stroke="#222" stroke-width="0.5"/>
<ellipse cx="503.7" cy="389.5" rx="2.2" ry="1.6" fill="#fa8c28" stroke="#333" stroke-width="0.6"/>
<rect x="208.5" y="234" width="3" height="4" fill="#fa0a0a" stroke="#333" stroke-width="0.4"/>
<rect x="196" y="255.5" width="2" height="2" fill="#fa0a0a"/>
<line x1="445.5" y1="316.5" x2="448" y2="316.5" stroke="#555" stroke-width="0.8"/>
<use href="#afo"/><use href="#mgo"/><use href="#brd"/>
<circle cx="107.9" cy="46.8" r="4.1" fill="#000"/>
<circle cx="351.4" cy="68.7" r="4.1" fill="#000"/>
<circle cx="45.6" cy="164.9" r="4.1" fill="#000"/>
<circle cx="359.3" cy="159.2" r="4.1" fill="#000"/>
<circle cx="398.4" cy="200.9" r="4.1" fill="#000"/>
<circle cx="176.9" cy="216.6" r="4.1" fill="#000"/>
<circle cx="440.3" cy="245.2" r="4.1" fill="#000"/>
<circle cx="386.2" cy="265.1" r="4.1" fill="#000"/>
<circle cx="252.2" cy="284.5" r="4.1" fill="#000"/>
<circle cx="401.9" cy="299.8" r="4.1" fill="#000"/>
<circle cx="238.4" cy="312.9" r="4.1" fill="#000"/>
<circle cx="331.2" cy="422" r="4.1" fill="#000"/>
<text class="ct" x="113.3" y="39.7" textLength="67.9" lengthAdjust="spacing">Casablanca</text>
<text class="ct" x="356.4" y="61.6" textLength="31.2" lengthAdjust="spacing">Cairo</text>
<text class="ct" x="51.4" y="157.8" textLength="34.1" lengthAdjust="spacing">Dakar</text>
<text class="ct" x="365.0" y="152.2" textLength="127.0" lengthAdjust="spacing">Khartoum-Omdurman</text>
<text class="ct" x="403.7" y="193.7" textLength="74.6" lengthAdjust="spacing">Addis Ababa</text>
<text class="ct" x="182.1" y="209.3" textLength="36.2" lengthAdjust="spacing">Lagos</text>
<text class="ct" x="445.4" y="237.9" textLength="64.8" lengthAdjust="spacing">Mogadishu</text>
<text class="ct" x="392.1" y="257.9" textLength="42.2" lengthAdjust="spacing">Nairobi</text>
<text class="ct" x="257.2" y="278.0" textLength="122.6" lengthAdjust="spacing">Kinshasa-Brazzaville</text>
<text class="ct" x="407.5" y="292.7" textLength="83.0" lengthAdjust="spacing">Dar es Salaam</text>
<text class="ct" x="243.8" y="305.7" textLength="43.7" lengthAdjust="spacing">Luanda</text>
<text class="ct" x="337.0" y="414.7" textLength="83.0" lengthAdjust="spacing">Johannesburg</text>
<text class="pl" x="29.6" y="47.2">D</text>
<rect x="17.2" y="256.1" width="142.4" height="245.5" fill="none" stroke="#fafafa" stroke-width="1"/>
<rect x="16.7" y="255.6" width="142.4" height="245.5" fill="none" stroke="#5a5a5a" stroke-width="1"/>
<text class="lt" x="17.6" y="272.8">Projected</text>
<text class="lt" x="17.6" y="293.3">change in Hda2</text>
<text class="lt" x="17.6" y="313.8">2071-2100</text>
<rect x="18.2" y="332.2" width="60.4" height="30.4" fill="#0a90c8" stroke="#6a6a6a" stroke-width="1"/>
<text class="ll" x="89.6" y="353.5">0 - 10</text>
<rect x="18.2" y="366.8" width="60.4" height="30.4" fill="#8fc49a" stroke="#6a6a6a" stroke-width="1"/>
<text class="ll" x="89.6" y="388.1">11 - 30</text>
<rect x="18.2" y="401.4" width="60.4" height="30.4" fill="#f8f852" stroke="#6a6a6a" stroke-width="1"/>
<text class="ll" x="89.6" y="422.7">31 - 50</text>
<rect x="18.2" y="436.0" width="60.4" height="30.4" fill="#fa8c28" stroke="#6a6a6a" stroke-width="1"/>
<text class="ll" x="89.6" y="457.3">51 - 80</text>
<rect x="18.2" y="470.6" width="60.4" height="30.4" fill="#fa0a0a" stroke="#6a6a6a" stroke-width="1"/>
<text class="ll" x="89.6" y="491.9">81 - 296</text>
</g>
<rect x="510" y="12" width="4.1" height="985.8" fill="#fbfbfb"/>
<rect x="14" y="503.6" width="996" height="4" fill="#f2f2f2"/>
<rect x="511.2" y="11" width="1.7" height="987.8" fill="#444"/>
<rect x="13" y="504.8" width="998" height="1.3" fill="#111"/>
</svg>
</body></html>
